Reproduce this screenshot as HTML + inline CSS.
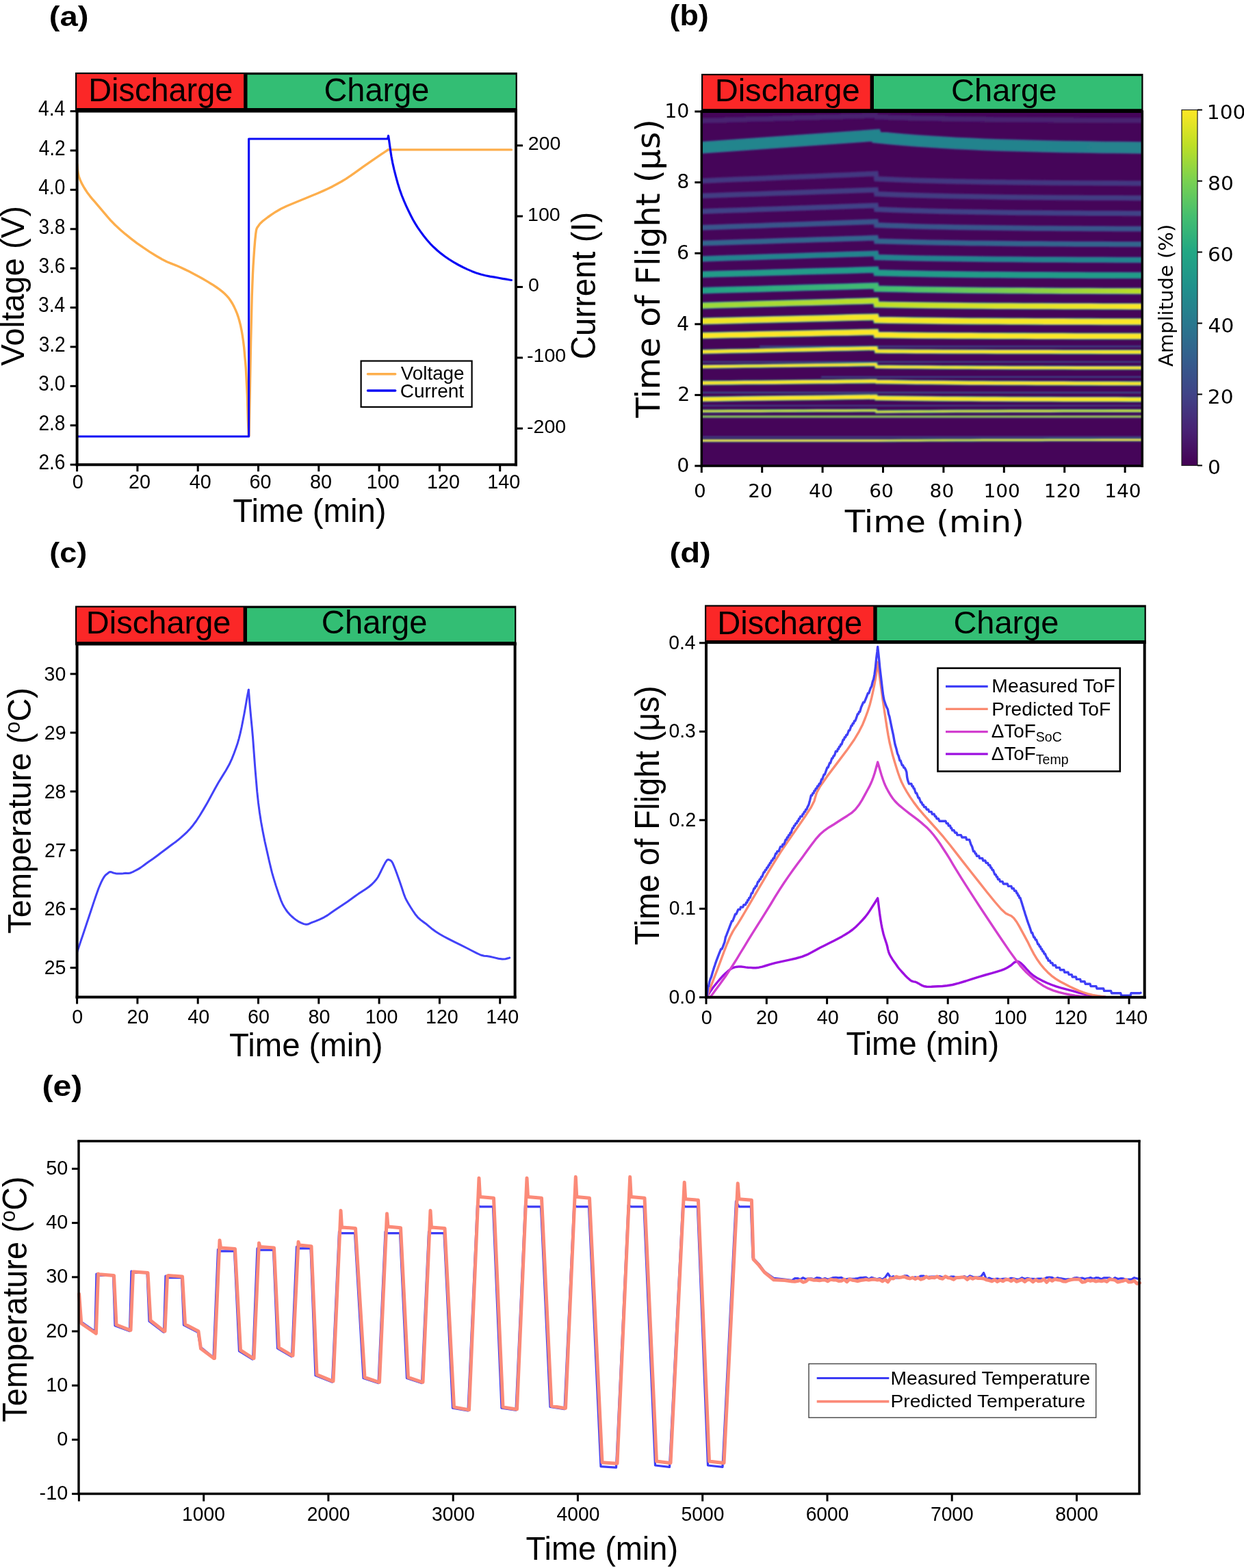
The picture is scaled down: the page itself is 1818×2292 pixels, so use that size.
<!DOCTYPE html>
<html><head><meta charset="utf-8"><title>Figure</title>
<style>html,body{margin:0;padding:0;background:#fff;}svg{display:block;}</style></head>
<body><svg width="1818" height="2292" viewBox="0 0 1818 2292">
<rect width="1818" height="2292" fill="#fff"/>
<text transform="translate(71.64,38.13) scale(1,0.8730)" font-family="'Liberation Sans', Arial, Helvetica, sans-serif" font-size="47.29" font-weight="bold">(a)</text>
<rect x="110" y="106" width="645.8" height="56.8" fill="#000"/>
<rect x="112.2" y="108.2" width="243.9" height="49.8" fill="#fb2727"/>
<rect x="361.5" y="109.2" width="392.1" height="48.8" fill="#33be74"/>
<text transform="translate(129.25,147.80) scale(1,1.0290)" font-family="'Liberation Sans', Arial, Helvetica, sans-serif" font-size="46.90" font-weight="normal">Discharge</text>
<text transform="translate(473.45,147.90) scale(1,1.0405)" font-family="'Liberation Sans', Arial, Helvetica, sans-serif" font-size="46.94" font-weight="normal">Charge</text>
<polyline points="112.6,239.5 112.9,242.4 113.3,246.6 113.8,251.1 114.5,255 115.3,258 116.2,260.7 117.3,263.3 118.4,265.8 119.6,268.4 121,270.9 122.4,273.4 124,276 125.6,278.5 127.2,280.9 129.1,283.5 131.6,286.8 134.9,290.8 138.7,295.2 142.9,300.1 147.4,305.3 152,310.8 156.9,316.7 162.3,322.8 168.4,329 175.4,335.5 183.2,342.2 191.5,348.8 200,355.3 209.1,361.7 218.7,368.1 228.2,374 236.8,379 244.1,382.7 250.7,385.4 256.9,387.8 263.2,390.5 269.8,393.6 276.4,396.8 282.9,400.2 289.5,403.7 296.3,407.5 303.3,411.6 310,415.7 315.8,419.5 320.6,422.9 324.7,426.1 328.3,429.2 331.6,432.6 334.7,436.2 337.3,440 339.8,444 342.1,448.4 344.3,453.1 346.4,458.1 348.3,463.6 350,469.5 351.6,475.9 353,482.8 354.3,490.2 355.5,498.4 356.7,508.5 357.7,520 358.7,530.6 359.3,537.9 361.3,577.4 362.4,615 363.4,636.6" fill="none" stroke="#fdae4c" stroke-width="3.4" stroke-linejoin="round" stroke-linecap="round"/>
<polyline points="363.9,636.6 365.3,570 366.6,500 368.2,432.6 368.5,425 368.9,414 369.4,401.6 370,389.5 370.8,377.1 371.7,363.8 372.7,351.5 373.7,342 374.5,336.5 375.3,333.8 376.2,332.2 377.6,330.3 379.2,328 381,325.9 383.4,323.7 386.8,321 391.4,317.5 396.9,313.6 403.3,309.4 410.5,305.3 418.9,301.3 428.5,297.3 438.2,293.3 447.4,289.5 455.8,286 463.8,282.7 471.5,279.4 478.9,276 485.9,272.6 492.4,269.1 498.8,265.5 505.3,261.6 512,257.2 518.8,252.4 525.4,247.6 531.6,243.2 537.4,239.2 542.8,235.4 547.9,231.9 552.6,228.7 557,225.7 561.2,222.9 564.6,220.6 567.1,218.9" fill="none" stroke="#fdae4c" stroke-width="3.4" stroke-linejoin="round" stroke-linecap="round"/>
<polyline points="567.1,218.9 747.4,218.9" fill="none" stroke="#fdae4c" stroke-width="3.4" stroke-linejoin="round" stroke-linecap="round"/>
<polyline points="112.6,638 363.6,638 363.6,203 566.5,203 567.6,198.5 568.4,203.7 568.4,203.7 569.2,209.7 570.4,218.3 571.9,228.2 573.7,237.9 575.9,247.6 578.5,257.8 581.3,268 584.2,277.4 587.3,286 590.6,294.2 594,301.8 597.4,309 600.6,315.5 603.6,321.3 606.9,326.9 610.5,332.6 614.7,338.6 619.2,344.8 624,350.7 628.9,356.3 633.9,361.3 639,366 644.3,370.4 650,374.7 656.2,379 662.8,383.1 669.6,387 676.3,390.5 682.9,393.6 689.4,396.4 696,398.9 702.6,401 709.4,402.7 716.2,404.1 722.9,405.2 728.9,406.3 734.5,407.3 739.8,408.2 744.3,409 747.4,409.5" fill="none" stroke="#0a0af5" stroke-width="3.2" stroke-linejoin="round" stroke-linecap="round"/>
<line x1="112.6" y1="160.6" x2="112.6" y2="681.2" stroke="#000" stroke-width="4" stroke-linecap="butt"/>
<line x1="754" y1="160.6" x2="754" y2="681.2" stroke="#000" stroke-width="4" stroke-linecap="butt"/>
<line x1="110.6" y1="679.2" x2="756" y2="679.2" stroke="#000" stroke-width="4" stroke-linecap="butt"/>
<line x1="110.6" y1="162.1" x2="756" y2="162.1" stroke="#000" stroke-width="5" stroke-linecap="butt"/>
<line x1="102.6" y1="679.2" x2="112.6" y2="679.2" stroke="#000" stroke-width="3" stroke-linecap="butt"/>
<text transform="translate(56.38,685.94) scale(1,1.0880)" font-family="'Liberation Sans', Arial, Helvetica, sans-serif" font-size="28.09" font-weight="normal">2.6</text>
<line x1="102.6" y1="621.8" x2="112.6" y2="621.8" stroke="#000" stroke-width="3" stroke-linecap="butt"/>
<text transform="translate(56.38,628.54) scale(1,1.0880)" font-family="'Liberation Sans', Arial, Helvetica, sans-serif" font-size="28.09" font-weight="normal">2.8</text>
<line x1="102.6" y1="564.4" x2="112.6" y2="564.4" stroke="#000" stroke-width="3" stroke-linecap="butt"/>
<text transform="translate(56.24,571.14) scale(1,1.0880)" font-family="'Liberation Sans', Arial, Helvetica, sans-serif" font-size="28.09" font-weight="normal">3.0</text>
<line x1="102.6" y1="507" x2="112.6" y2="507" stroke="#000" stroke-width="3" stroke-linecap="butt"/>
<text transform="translate(56.66,513.74) scale(1,1.0880)" font-family="'Liberation Sans', Arial, Helvetica, sans-serif" font-size="28.09" font-weight="normal">3.2</text>
<line x1="102.6" y1="449.6" x2="112.6" y2="449.6" stroke="#000" stroke-width="3" stroke-linecap="butt"/>
<text transform="translate(56.10,456.34) scale(1,1.0880)" font-family="'Liberation Sans', Arial, Helvetica, sans-serif" font-size="28.09" font-weight="normal">3.4</text>
<line x1="102.6" y1="392.2" x2="112.6" y2="392.2" stroke="#000" stroke-width="3" stroke-linecap="butt"/>
<text transform="translate(56.38,398.94) scale(1,1.0880)" font-family="'Liberation Sans', Arial, Helvetica, sans-serif" font-size="28.09" font-weight="normal">3.6</text>
<line x1="102.6" y1="334.8" x2="112.6" y2="334.8" stroke="#000" stroke-width="3" stroke-linecap="butt"/>
<text transform="translate(56.38,341.54) scale(1,1.0880)" font-family="'Liberation Sans', Arial, Helvetica, sans-serif" font-size="28.09" font-weight="normal">3.8</text>
<line x1="102.6" y1="277.4" x2="112.6" y2="277.4" stroke="#000" stroke-width="3" stroke-linecap="butt"/>
<text transform="translate(56.24,284.14) scale(1,1.0880)" font-family="'Liberation Sans', Arial, Helvetica, sans-serif" font-size="28.09" font-weight="normal">4.0</text>
<line x1="102.6" y1="220" x2="112.6" y2="220" stroke="#000" stroke-width="3" stroke-linecap="butt"/>
<text transform="translate(56.66,226.90) scale(1,1.0880)" font-family="'Liberation Sans', Arial, Helvetica, sans-serif" font-size="28.09" font-weight="normal">4.2</text>
<line x1="102.6" y1="162.6" x2="112.6" y2="162.6" stroke="#000" stroke-width="3" stroke-linecap="butt"/>
<text transform="translate(56.10,169.34) scale(1,1.0880)" font-family="'Liberation Sans', Arial, Helvetica, sans-serif" font-size="28.09" font-weight="normal">4.4</text>
<line x1="754" y1="212.7" x2="764" y2="212.7" stroke="#000" stroke-width="3" stroke-linecap="butt"/>
<text transform="translate(771.67,219.12) scale(1,0.9932)" font-family="'Liberation Sans', Arial, Helvetica, sans-serif" font-size="28.65" font-weight="normal">200</text>
<line x1="754" y1="316.1" x2="764" y2="316.1" stroke="#000" stroke-width="3" stroke-linecap="butt"/>
<text transform="translate(770.95,322.52) scale(1,0.9932)" font-family="'Liberation Sans', Arial, Helvetica, sans-serif" font-size="28.65" font-weight="normal">100</text>
<line x1="754" y1="419.5" x2="764" y2="419.5" stroke="#000" stroke-width="3" stroke-linecap="butt"/>
<text transform="translate(771.95,425.92) scale(1,0.9932)" font-family="'Liberation Sans', Arial, Helvetica, sans-serif" font-size="28.65" font-weight="normal">0</text>
<line x1="754" y1="522.9" x2="764" y2="522.9" stroke="#000" stroke-width="3" stroke-linecap="butt"/>
<text transform="translate(769.91,529.32) scale(1,0.9932)" font-family="'Liberation Sans', Arial, Helvetica, sans-serif" font-size="28.65" font-weight="normal">-100</text>
<line x1="754" y1="626.3" x2="764" y2="626.3" stroke="#000" stroke-width="3" stroke-linecap="butt"/>
<text transform="translate(769.91,632.72) scale(1,0.9932)" font-family="'Liberation Sans', Arial, Helvetica, sans-serif" font-size="28.65" font-weight="normal">-200</text>
<line x1="112.6" y1="679.2" x2="112.6" y2="689.2" stroke="#000" stroke-width="3" stroke-linecap="butt"/>
<text transform="translate(105.74,713.61) scale(1,1.0130)" font-family="'Liberation Sans', Arial, Helvetica, sans-serif" font-size="28.78" font-weight="normal">0</text>
<line x1="200.9" y1="679.2" x2="200.9" y2="689.2" stroke="#000" stroke-width="3" stroke-linecap="butt"/>
<text transform="translate(188.01,713.61) scale(1,1.0130)" font-family="'Liberation Sans', Arial, Helvetica, sans-serif" font-size="28.78" font-weight="normal">20</text>
<line x1="289.2" y1="679.2" x2="289.2" y2="689.2" stroke="#000" stroke-width="3" stroke-linecap="butt"/>
<text transform="translate(276.74,713.61) scale(1,1.0130)" font-family="'Liberation Sans', Arial, Helvetica, sans-serif" font-size="28.78" font-weight="normal">40</text>
<line x1="377.5" y1="679.2" x2="377.5" y2="689.2" stroke="#000" stroke-width="3" stroke-linecap="butt"/>
<text transform="translate(364.61,713.61) scale(1,1.0130)" font-family="'Liberation Sans', Arial, Helvetica, sans-serif" font-size="28.78" font-weight="normal">60</text>
<line x1="465.8" y1="679.2" x2="465.8" y2="689.2" stroke="#000" stroke-width="3" stroke-linecap="butt"/>
<text transform="translate(452.98,713.61) scale(1,1.0130)" font-family="'Liberation Sans', Arial, Helvetica, sans-serif" font-size="28.78" font-weight="normal">80</text>
<line x1="554.1" y1="679.2" x2="554.1" y2="689.2" stroke="#000" stroke-width="3" stroke-linecap="butt"/>
<text transform="translate(535.76,713.61) scale(1,1.0130)" font-family="'Liberation Sans', Arial, Helvetica, sans-serif" font-size="28.78" font-weight="normal">100</text>
<line x1="642.4" y1="679.2" x2="642.4" y2="689.2" stroke="#000" stroke-width="3" stroke-linecap="butt"/>
<text transform="translate(624.06,713.61) scale(1,1.0130)" font-family="'Liberation Sans', Arial, Helvetica, sans-serif" font-size="28.78" font-weight="normal">120</text>
<line x1="730.7" y1="679.2" x2="730.7" y2="689.2" stroke="#000" stroke-width="3" stroke-linecap="butt"/>
<text transform="translate(712.36,713.61) scale(1,1.0130)" font-family="'Liberation Sans', Arial, Helvetica, sans-serif" font-size="28.78" font-weight="normal">140</text>
<text transform="translate(340.35,762.70) scale(1,1.0294)" font-family="'Liberation Sans', Arial, Helvetica, sans-serif" font-size="47.30" font-weight="normal">Time (min)</text>
<text transform="translate(35.00,534.74) rotate(-90) scale(1,1.0125)" font-family="'Liberation Sans', Arial, Helvetica, sans-serif" font-size="47.23" font-weight="normal">Voltage (V)</text>
<text transform="translate(869.90,525.27) rotate(-90) scale(1,1.0533)" font-family="'Liberation Sans', Arial, Helvetica, sans-serif" font-size="47.33" font-weight="normal">Current (I)</text>
<rect x="527.6" y="527.6" width="162" height="67.3" fill="#fff" stroke="#000" stroke-width="2.2"/>
<line x1="537.5" y1="546.8" x2="577.7" y2="546.8" stroke="#fdae4c" stroke-width="3.5" stroke-linecap="round"/>
<line x1="537.5" y1="571" x2="577.7" y2="571" stroke="#0a0af5" stroke-width="3.5" stroke-linecap="round"/>
<text transform="translate(585.66,555.30) scale(1,1.0135)" font-family="'Liberation Sans', Arial, Helvetica, sans-serif" font-size="27.88" font-weight="normal">Voltage</text>
<text transform="translate(584.70,580.80) scale(1,0.9927)" font-family="'Liberation Sans', Arial, Helvetica, sans-serif" font-size="28.03" font-weight="normal">Current</text>
<text transform="translate(978.56,37.16) scale(1,0.9280)" font-family="'Liberation Sans', Arial, Helvetica, sans-serif" font-size="44.83" font-weight="bold">(b)</text>
<rect x="1025" y="107.9" width="645.5" height="56.1" fill="#000"/>
<rect x="1027.2" y="110.1" width="244.4" height="49.1" fill="#fb2727"/>
<rect x="1277" y="111.1" width="391.3" height="48.1" fill="#33be74"/>
<text transform="translate(1044.63,148.20) scale(1,0.9968)" font-family="'Liberation Sans', Arial, Helvetica, sans-serif" font-size="47.11" font-weight="normal">Discharge</text>
<text transform="translate(1390.05,148.20)" font-family="'Liberation Sans', Arial, Helvetica, sans-serif" font-size="47.06" font-weight="normal">Charge</text>
<defs><filter id="bl" x="-5%" y="-5%" width="110%" height="110%"><feGaussianBlur stdDeviation="0.9"/></filter><clipPath id="hm"><rect x="1025.3" y="163" width="644" height="518"/></clipPath>
<linearGradient id="cb" x1="0" y1="1" x2="0" y2="0"><stop offset="0.00" stop-color="#440154"/><stop offset="0.10" stop-color="#482374"/><stop offset="0.20" stop-color="#404387"/><stop offset="0.30" stop-color="#345e8d"/><stop offset="0.40" stop-color="#29788e"/><stop offset="0.50" stop-color="#20908c"/><stop offset="0.60" stop-color="#22a784"/><stop offset="0.70" stop-color="#44be70"/><stop offset="0.80" stop-color="#79d151"/><stop offset="0.90" stop-color="#bddf26"/><stop offset="1.00" stop-color="#fde725"/></linearGradient></defs>
<g clip-path="url(#hm)">
<rect x="1025.3" y="163" width="644" height="518" fill="#450559"/>
<g filter="url(#bl)">
<line x1="1110" y1="506.3" x2="1669.3" y2="506.3" stroke="#3e4888" stroke-width="2.2" stroke-linecap="butt"/>
<line x1="1025" y1="529" x2="1669.3" y2="529" stroke="#3e4888" stroke-width="2.2" stroke-linecap="butt"/>
<line x1="1200" y1="551" x2="1669.3" y2="551" stroke="#3e4888" stroke-width="2.2" stroke-linecap="butt"/>
<line x1="1025" y1="573.9" x2="1669.3" y2="573.9" stroke="#3a508a" stroke-width="2.2" stroke-linecap="butt"/>
<line x1="1025" y1="593" x2="1669.3" y2="593" stroke="#404387" stroke-width="2" stroke-linecap="butt"/>
<line x1="1025" y1="638.8" x2="1669.3" y2="638.8" stroke="#3e4888" stroke-width="2" stroke-linecap="butt"/>
<polyline points="1025.3,176.5 1046.5,175.9 1067.7,175.2 1088.9,174.6 1110.2,174 1131.4,173.4 1152.6,172.8 1173.8,172.1 1195,171.5 1216.2,170.9 1237.5,170.2 1258.7,169.6 1279.9,169 1281,171 1300.5,171.6 1320,172.2 1339.4,172.7 1358.9,173.1 1378.4,173.5 1397.9,173.9 1417.4,174.2 1436.8,174.4 1456.3,174.7 1475.8,174.9 1495.3,175.1 1514.8,175.2 1534.3,175.4 1553.7,175.5 1573.2,175.6 1592.7,175.7 1612.2,175.8 1631.7,175.9 1651.1,175.9 1670.6,176" fill="none" stroke="#461365" stroke-width="9" stroke-linejoin="miter" stroke-linecap="round"/>
<polyline points="1025.3,176.5 1046.5,175.9 1067.7,175.2 1088.9,174.6 1110.2,174 1131.4,173.4 1152.6,172.8 1173.8,172.1 1195,171.5 1216.2,170.9 1237.5,170.2 1258.7,169.6 1279.9,169 1281,171 1300.5,171.6 1320,172.2 1339.4,172.7 1358.9,173.1 1378.4,173.5 1397.9,173.9 1417.4,174.2 1436.8,174.4 1456.3,174.7 1475.8,174.9 1495.3,175.1 1514.8,175.2 1534.3,175.4 1553.7,175.5 1573.2,175.6 1592.7,175.7 1612.2,175.8 1631.7,175.9 1651.1,175.9 1670.6,176" fill="none" stroke="#482071" stroke-width="6.4" stroke-linejoin="miter" stroke-linecap="round"/>
<linearGradient id="g2157" gradientUnits="userSpaceOnUse" x1="1025.3" y1="0" x2="1669.3" y2="0"><stop offset="0" stop-color="#24868d"/><stop offset="0.45" stop-color="#24848d"/><stop offset="1" stop-color="#25828d"/></linearGradient>
<polyline points="1025.3,215.7 1046.5,214.2 1067.7,212.7 1088.9,211.2 1110.2,209.7 1131.4,208.2 1152.6,206.7 1173.8,205.2 1195,203.7 1216.2,202.2 1237.5,200.7 1258.7,199.2 1279.9,197.7 1281,200.5 1300.5,202.5 1320,204.2 1339.4,205.8 1358.9,207.1 1378.4,208.3 1397.9,209.4 1417.4,210.3 1436.8,211.2 1456.3,211.9 1475.8,212.5 1495.3,213.1 1514.8,213.6 1534.3,214.1 1553.7,214.5 1573.2,214.8 1592.7,215.1 1612.2,215.4 1631.7,215.6 1651.1,215.8 1670.6,216" fill="none" stroke="#37588c" stroke-width="18" stroke-linejoin="miter" stroke-linecap="round"/>
<polyline points="1025.3,215.7 1046.5,214.2 1067.7,212.7 1088.9,211.2 1110.2,209.7 1131.4,208.2 1152.6,206.7 1173.8,205.2 1195,203.7 1216.2,202.2 1237.5,200.7 1258.7,199.2 1279.9,197.7 1281,200.5 1300.5,202.5 1320,204.2 1339.4,205.8 1358.9,207.1 1378.4,208.3 1397.9,209.4 1417.4,210.3 1436.8,211.2 1456.3,211.9 1475.8,212.5 1495.3,213.1 1514.8,213.6 1534.3,214.1 1553.7,214.5 1573.2,214.8 1592.7,215.1 1612.2,215.4 1631.7,215.6 1651.1,215.8 1670.6,216" fill="none" stroke="url(#g2157)" stroke-width="15.4" stroke-linejoin="miter" stroke-linecap="round"/>
<polyline points="1025.3,264.4 1046.5,263.5 1067.7,262.6 1088.9,261.8 1110.2,260.9 1131.4,260 1152.6,259.1 1173.8,258.3 1195,257.4 1216.2,256.5 1237.5,255.7 1258.7,254.8 1279.9,253.9 1281,261.5 1300.5,262.3 1320,263.1 1339.4,263.7 1358.9,264.3 1378.4,264.8 1397.9,265.2 1417.4,265.6 1436.8,266 1456.3,266.3 1475.8,266.6 1495.3,266.8 1514.8,267 1534.3,267.2 1553.7,267.4 1573.2,267.5 1592.7,267.6 1612.2,267.7 1631.7,267.8 1651.1,267.9 1670.6,268" fill="none" stroke="#482474" stroke-width="8.5" stroke-linejoin="miter" stroke-linecap="round"/>
<polyline points="1025.3,264.4 1046.5,263.5 1067.7,262.6 1088.9,261.8 1110.2,260.9 1131.4,260 1152.6,259.1 1173.8,258.3 1195,257.4 1216.2,256.5 1237.5,255.7 1258.7,254.8 1279.9,253.9 1281,261.5 1300.5,262.3 1320,263.1 1339.4,263.7 1358.9,264.3 1378.4,264.8 1397.9,265.2 1417.4,265.6 1436.8,266 1456.3,266.3 1475.8,266.6 1495.3,266.8 1514.8,267 1534.3,267.2 1553.7,267.4 1573.2,267.5 1592.7,267.6 1612.2,267.7 1631.7,267.8 1651.1,267.9 1670.6,268" fill="none" stroke="#423981" stroke-width="5.9" stroke-linejoin="miter" stroke-linecap="round"/>
<polyline points="1025.3,286.3 1046.5,285.6 1067.7,284.8 1088.9,284.1 1110.2,283.4 1131.4,282.6 1152.6,281.9 1173.8,281.2 1195,280.4 1216.2,279.7 1237.5,279 1258.7,278.2 1279.9,277.5 1281,283.5 1300.5,284.3 1320,284.9 1339.4,285.5 1358.9,286.1 1378.4,286.5 1397.9,286.9 1417.4,287.3 1436.8,287.6 1456.3,287.9 1475.8,288.2 1495.3,288.4 1514.8,288.6 1534.3,288.7 1553.7,288.9 1573.2,289 1592.7,289.2 1612.2,289.3 1631.7,289.3 1651.1,289.4 1670.6,289.5" fill="none" stroke="#472676" stroke-width="8.5" stroke-linejoin="miter" stroke-linecap="round"/>
<polyline points="1025.3,286.3 1046.5,285.6 1067.7,284.8 1088.9,284.1 1110.2,283.4 1131.4,282.6 1152.6,281.9 1173.8,281.2 1195,280.4 1216.2,279.7 1237.5,279 1258.7,278.2 1279.9,277.5 1281,283.5 1300.5,284.3 1320,284.9 1339.4,285.5 1358.9,286.1 1378.4,286.5 1397.9,286.9 1417.4,287.3 1436.8,287.6 1456.3,287.9 1475.8,288.2 1495.3,288.4 1514.8,288.6 1534.3,288.7 1553.7,288.9 1573.2,289 1592.7,289.2 1612.2,289.3 1631.7,289.3 1651.1,289.4 1670.6,289.5" fill="none" stroke="#423d83" stroke-width="5.9" stroke-linejoin="miter" stroke-linecap="round"/>
<polyline points="1025.3,309 1046.5,308.3 1067.7,307.6 1088.9,306.9 1110.2,306.1 1131.4,305.4 1152.6,304.7 1173.8,304 1195,303.3 1216.2,302.6 1237.5,301.8 1258.7,301.1 1279.9,300.4 1281,306 1300.5,306.8 1320,307.4 1339.4,308 1358.9,308.6 1378.4,309 1397.9,309.4 1417.4,309.8 1436.8,310.1 1456.3,310.4 1475.8,310.7 1495.3,310.9 1514.8,311.1 1534.3,311.2 1553.7,311.4 1573.2,311.5 1592.7,311.7 1612.2,311.8 1631.7,311.8 1651.1,311.9 1670.6,312" fill="none" stroke="#462978" stroke-width="8.5" stroke-linejoin="miter" stroke-linecap="round"/>
<polyline points="1025.3,309 1046.5,308.3 1067.7,307.6 1088.9,306.9 1110.2,306.1 1131.4,305.4 1152.6,304.7 1173.8,304 1195,303.3 1216.2,302.6 1237.5,301.8 1258.7,301.1 1279.9,300.4 1281,306 1300.5,306.8 1320,307.4 1339.4,308 1358.9,308.6 1378.4,309 1397.9,309.4 1417.4,309.8 1436.8,310.1 1456.3,310.4 1475.8,310.7 1495.3,310.9 1514.8,311.1 1534.3,311.2 1553.7,311.4 1573.2,311.5 1592.7,311.7 1612.2,311.8 1631.7,311.8 1651.1,311.9 1670.6,312" fill="none" stroke="#404387" stroke-width="5.9" stroke-linejoin="miter" stroke-linecap="round"/>
<polyline points="1025.3,332.8 1046.5,332.1 1067.7,331.3 1088.9,330.6 1110.2,329.9 1131.4,329.1 1152.6,328.4 1173.8,327.7 1195,326.9 1216.2,326.2 1237.5,325.5 1258.7,324.7 1279.9,324 1281,329 1300.5,329.7 1320,330.3 1339.4,330.9 1358.9,331.4 1378.4,331.8 1397.9,332.2 1417.4,332.5 1436.8,332.8 1456.3,333 1475.8,333.3 1495.3,333.5 1514.8,333.7 1534.3,333.8 1553.7,334 1573.2,334.1 1592.7,334.2 1612.2,334.3 1631.7,334.4 1651.1,334.4 1670.6,334.5" fill="none" stroke="#433780" stroke-width="8.5" stroke-linejoin="miter" stroke-linecap="round"/>
<polyline points="1025.3,332.8 1046.5,332.1 1067.7,331.3 1088.9,330.6 1110.2,329.9 1131.4,329.1 1152.6,328.4 1173.8,327.7 1195,326.9 1216.2,326.2 1237.5,325.5 1258.7,324.7 1279.9,324 1281,329 1300.5,329.7 1320,330.3 1339.4,330.9 1358.9,331.4 1378.4,331.8 1397.9,332.2 1417.4,332.5 1436.8,332.8 1456.3,333 1475.8,333.3 1495.3,333.5 1514.8,333.7 1534.3,333.8 1553.7,334 1573.2,334.1 1592.7,334.2 1612.2,334.3 1631.7,334.4 1651.1,334.4 1670.6,334.5" fill="none" stroke="#38568b" stroke-width="5.9" stroke-linejoin="miter" stroke-linecap="round"/>
<polyline points="1025.3,355.6 1046.5,354.9 1067.7,354.3 1088.9,353.6 1110.2,353 1131.4,352.3 1152.6,351.6 1173.8,351 1195,350.3 1216.2,349.7 1237.5,349 1258.7,348.4 1279.9,347.7 1281,352.5 1300.5,353.1 1320,353.6 1339.4,354 1358.9,354.4 1378.4,354.8 1397.9,355.1 1417.4,355.4 1436.8,355.6 1456.3,355.8 1475.8,356 1495.3,356.2 1514.8,356.3 1534.3,356.4 1553.7,356.6 1573.2,356.7 1592.7,356.7 1612.2,356.8 1631.7,356.9 1651.1,356.9 1670.6,357" fill="none" stroke="#404287" stroke-width="8.5" stroke-linejoin="miter" stroke-linecap="round"/>
<polyline points="1025.3,355.6 1046.5,354.9 1067.7,354.3 1088.9,353.6 1110.2,353 1131.4,352.3 1152.6,351.6 1173.8,351 1195,350.3 1216.2,349.7 1237.5,349 1258.7,348.4 1279.9,347.7 1281,352.5 1300.5,353.1 1320,353.6 1339.4,354 1358.9,354.4 1378.4,354.8 1397.9,355.1 1417.4,355.4 1436.8,355.6 1456.3,355.8 1475.8,356 1495.3,356.2 1514.8,356.3 1534.3,356.4 1553.7,356.6 1573.2,356.7 1592.7,356.7 1612.2,356.8 1631.7,356.9 1651.1,356.9 1670.6,357" fill="none" stroke="#31668d" stroke-width="5.9" stroke-linejoin="miter" stroke-linecap="round"/>
<polyline points="1025.3,378.4 1046.5,377.7 1067.7,377.1 1088.9,376.4 1110.2,375.8 1131.4,375.1 1152.6,374.4 1173.8,373.8 1195,373.1 1216.2,372.5 1237.5,371.8 1258.7,371.2 1279.9,370.5 1281,376 1300.5,376.5 1320,377 1339.4,377.4 1358.9,377.7 1378.4,378 1397.9,378.3 1417.4,378.5 1436.8,378.8 1456.3,378.9 1475.8,379.1 1495.3,379.3 1514.8,379.4 1534.3,379.5 1553.7,379.6 1573.2,379.7 1592.7,379.8 1612.2,379.8 1631.7,379.9 1651.1,380 1670.6,380" fill="none" stroke="#38568b" stroke-width="9" stroke-linejoin="miter" stroke-linecap="round"/>
<polyline points="1025.3,378.4 1046.5,377.7 1067.7,377.1 1088.9,376.4 1110.2,375.8 1131.4,375.1 1152.6,374.4 1173.8,373.8 1195,373.1 1216.2,372.5 1237.5,371.8 1258.7,371.2 1279.9,370.5 1281,376 1300.5,376.5 1320,377 1339.4,377.4 1358.9,377.7 1378.4,378 1397.9,378.3 1417.4,378.5 1436.8,378.8 1456.3,378.9 1475.8,379.1 1495.3,379.3 1514.8,379.4 1534.3,379.5 1553.7,379.6 1573.2,379.7 1592.7,379.8 1612.2,379.8 1631.7,379.9 1651.1,380 1670.6,380" fill="none" stroke="#24848d" stroke-width="6.4" stroke-linejoin="miter" stroke-linecap="round"/>
<polyline points="1025.3,401.2 1046.5,400.6 1067.7,400 1088.9,399.4 1110.2,398.9 1131.4,398.3 1152.6,397.7 1173.8,397.1 1195,396.5 1216.2,395.9 1237.5,395.4 1258.7,394.8 1279.9,394.2 1281,398.8 1300.5,399.3 1320,399.7 1339.4,400.1 1358.9,400.4 1378.4,400.7 1397.9,401 1417.4,401.2 1436.8,401.4 1456.3,401.6 1475.8,401.8 1495.3,401.9 1514.8,402 1534.3,402.1 1553.7,402.2 1573.2,402.3 1592.7,402.4 1612.2,402.4 1631.7,402.5 1651.1,402.6 1670.6,402.6" fill="none" stroke="#31668d" stroke-width="10" stroke-linejoin="miter" stroke-linecap="round"/>
<polyline points="1025.3,401.2 1046.5,400.6 1067.7,400 1088.9,399.4 1110.2,398.9 1131.4,398.3 1152.6,397.7 1173.8,397.1 1195,396.5 1216.2,395.9 1237.5,395.4 1258.7,394.8 1279.9,394.2 1281,398.8 1300.5,399.3 1320,399.7 1339.4,400.1 1358.9,400.4 1378.4,400.7 1397.9,401 1417.4,401.2 1436.8,401.4 1456.3,401.6 1475.8,401.8 1495.3,401.9 1514.8,402 1534.3,402.1 1553.7,402.2 1573.2,402.3 1592.7,402.4 1612.2,402.4 1631.7,402.5 1651.1,402.6 1670.6,402.6" fill="none" stroke="#219c88" stroke-width="7.4" stroke-linejoin="miter" stroke-linecap="round"/>
<linearGradient id="g4247" gradientUnits="userSpaceOnUse" x1="1025.3" y1="0" x2="1669.3" y2="0"><stop offset="0" stop-color="#22a286"/><stop offset="0.45" stop-color="#48c06e"/><stop offset="1" stop-color="#bddf26"/></linearGradient>
<polyline points="1025.3,424.7 1046.5,424.1 1067.7,423.5 1088.9,422.9 1110.2,422.4 1131.4,421.8 1152.6,421.2 1173.8,420.6 1195,420 1216.2,419.4 1237.5,418.9 1258.7,418.3 1279.9,417.7 1281,422 1300.5,422.4 1320,422.8 1339.4,423.2 1358.9,423.5 1378.4,423.8 1397.9,424 1417.4,424.2 1436.8,424.4 1456.3,424.6 1475.8,424.7 1495.3,424.8 1514.8,425 1534.3,425.1 1553.7,425.2 1573.2,425.2 1592.7,425.3 1612.2,425.4 1631.7,425.4 1651.1,425.5 1670.6,425.5" fill="none" stroke="#2f6a8d" stroke-width="10" stroke-linejoin="miter" stroke-linecap="round"/>
<polyline points="1025.3,424.7 1046.5,424.1 1067.7,423.5 1088.9,422.9 1110.2,422.4 1131.4,421.8 1152.6,421.2 1173.8,420.6 1195,420 1216.2,419.4 1237.5,418.9 1258.7,418.3 1279.9,417.7 1281,422 1300.5,422.4 1320,422.8 1339.4,423.2 1358.9,423.5 1378.4,423.8 1397.9,424 1417.4,424.2 1436.8,424.4 1456.3,424.6 1475.8,424.7 1495.3,424.8 1514.8,425 1534.3,425.1 1553.7,425.2 1573.2,425.2 1592.7,425.3 1612.2,425.4 1631.7,425.4 1651.1,425.5 1670.6,425.5" fill="none" stroke="url(#g4247)" stroke-width="7.4" stroke-linejoin="miter" stroke-linecap="round"/>
<linearGradient id="g4467" gradientUnits="userSpaceOnUse" x1="1025.3" y1="0" x2="1669.3" y2="0"><stop offset="0" stop-color="#9bd83c"/><stop offset="0.45" stop-color="#c3e026"/><stop offset="1" stop-color="#fde725"/></linearGradient>
<polyline points="1025.3,446.7 1046.5,446.1 1067.7,445.5 1088.9,444.9 1110.2,444.3 1131.4,443.7 1152.6,443.1 1173.8,442.6 1195,442 1216.2,441.4 1237.5,440.8 1258.7,440.2 1279.9,439.6 1281,445 1300.5,445.4 1320,445.7 1339.4,446 1358.9,446.3 1378.4,446.5 1397.9,446.7 1417.4,446.9 1436.8,447.1 1456.3,447.2 1475.8,447.3 1495.3,447.4 1514.8,447.5 1534.3,447.6 1553.7,447.7 1573.2,447.8 1592.7,447.8 1612.2,447.9 1631.7,447.9 1651.1,448 1670.6,448" fill="none" stroke="#20928b" stroke-width="10" stroke-linejoin="miter" stroke-linecap="round"/>
<polyline points="1025.3,446.7 1046.5,446.1 1067.7,445.5 1088.9,444.9 1110.2,444.3 1131.4,443.7 1152.6,443.1 1173.8,442.6 1195,442 1216.2,441.4 1237.5,440.8 1258.7,440.2 1279.9,439.6 1281,445 1300.5,445.4 1320,445.7 1339.4,446 1358.9,446.3 1378.4,446.5 1397.9,446.7 1417.4,446.9 1436.8,447.1 1456.3,447.2 1475.8,447.3 1495.3,447.4 1514.8,447.5 1534.3,447.6 1553.7,447.7 1573.2,447.8 1592.7,447.8 1612.2,447.9 1631.7,447.9 1651.1,448 1670.6,448" fill="none" stroke="url(#g4467)" stroke-width="7.4" stroke-linejoin="miter" stroke-linecap="round"/>
<linearGradient id="g4695" gradientUnits="userSpaceOnUse" x1="1025.3" y1="0" x2="1669.3" y2="0"><stop offset="0" stop-color="#f0e525"/><stop offset="0.45" stop-color="#f5e625"/><stop offset="1" stop-color="#fde725"/></linearGradient>
<polyline points="1025.3,469.5 1046.5,469 1067.7,468.5 1088.9,467.9 1110.2,467.4 1131.4,466.9 1152.6,466.4 1173.8,465.9 1195,465.4 1216.2,464.9 1237.5,464.3 1258.7,463.8 1279.9,463.3 1281,467.7 1300.5,468 1320,468.3 1339.4,468.6 1358.9,468.8 1378.4,469 1397.9,469.2 1417.4,469.4 1436.8,469.5 1456.3,469.6 1475.8,469.7 1495.3,469.8 1514.8,469.9 1534.3,470 1553.7,470 1573.2,470.1 1592.7,470.1 1612.2,470.2 1631.7,470.2 1651.1,470.3 1670.6,470.3" fill="none" stroke="#22a485" stroke-width="10.5" stroke-linejoin="miter" stroke-linecap="round"/>
<polyline points="1025.3,469.5 1046.5,469 1067.7,468.5 1088.9,467.9 1110.2,467.4 1131.4,466.9 1152.6,466.4 1173.8,465.9 1195,465.4 1216.2,464.9 1237.5,464.3 1258.7,463.8 1279.9,463.3 1281,467.7 1300.5,468 1320,468.3 1339.4,468.6 1358.9,468.8 1378.4,469 1397.9,469.2 1417.4,469.4 1436.8,469.5 1456.3,469.6 1475.8,469.7 1495.3,469.8 1514.8,469.9 1534.3,470 1553.7,470 1573.2,470.1 1592.7,470.1 1612.2,470.2 1631.7,470.2 1651.1,470.3 1670.6,470.3" fill="none" stroke="url(#g4695)" stroke-width="7.9" stroke-linejoin="miter" stroke-linecap="round"/>
<polyline points="1025.3,490.5 1046.5,490.1 1067.7,489.6 1088.9,489.2 1110.2,488.8 1131.4,488.3 1152.6,487.9 1173.8,487.5 1195,487 1216.2,486.6 1237.5,486.2 1258.7,485.7 1279.9,485.3 1281,489.6 1300.5,489.8 1320,490.1 1339.4,490.2 1358.9,490.4 1378.4,490.6 1397.9,490.7 1417.4,490.8 1436.8,490.9 1456.3,491 1475.8,491.1 1495.3,491.1 1514.8,491.2 1534.3,491.3 1553.7,491.3 1573.2,491.4 1592.7,491.4 1612.2,491.4 1631.7,491.5 1651.1,491.5 1670.6,491.5" fill="none" stroke="#22a784" stroke-width="10" stroke-linejoin="miter" stroke-linecap="round"/>
<polyline points="1025.3,490.5 1046.5,490.1 1067.7,489.6 1088.9,489.2 1110.2,488.8 1131.4,488.3 1152.6,487.9 1173.8,487.5 1195,487 1216.2,486.6 1237.5,486.2 1258.7,485.7 1279.9,485.3 1281,489.6 1300.5,489.8 1320,490.1 1339.4,490.2 1358.9,490.4 1378.4,490.6 1397.9,490.7 1417.4,490.8 1436.8,490.9 1456.3,491 1475.8,491.1 1495.3,491.1 1514.8,491.2 1534.3,491.3 1553.7,491.3 1573.2,491.4 1592.7,491.4 1612.2,491.4 1631.7,491.5 1651.1,491.5 1670.6,491.5" fill="none" stroke="#fde725" stroke-width="7.4" stroke-linejoin="miter" stroke-linecap="round"/>
<polyline points="1025.3,514.2 1046.5,513.8 1067.7,513.3 1088.9,512.9 1110.2,512.5 1131.4,512 1152.6,511.6 1173.8,511.2 1195,510.7 1216.2,510.3 1237.5,509.9 1258.7,509.4 1279.9,509 1281,513.3 1300.5,513.5 1320,513.6 1339.4,513.7 1358.9,513.8 1378.4,513.9 1397.9,514 1417.4,514.1 1436.8,514.1 1456.3,514.2 1475.8,514.2 1495.3,514.3 1514.8,514.3 1534.3,514.3 1553.7,514.4 1573.2,514.4 1592.7,514.4 1612.2,514.5 1631.7,514.5 1651.1,514.5 1670.6,514.5" fill="none" stroke="#22a784" stroke-width="7" stroke-linejoin="miter" stroke-linecap="round"/>
<polyline points="1025.3,514.2 1046.5,513.8 1067.7,513.3 1088.9,512.9 1110.2,512.5 1131.4,512 1152.6,511.6 1173.8,511.2 1195,510.7 1216.2,510.3 1237.5,509.9 1258.7,509.4 1279.9,509 1281,513.3 1300.5,513.5 1320,513.6 1339.4,513.7 1358.9,513.8 1378.4,513.9 1397.9,514 1417.4,514.1 1436.8,514.1 1456.3,514.2 1475.8,514.2 1495.3,514.3 1514.8,514.3 1534.3,514.3 1553.7,514.4 1573.2,514.4 1592.7,514.4 1612.2,514.5 1631.7,514.5 1651.1,514.5 1670.6,514.5" fill="none" stroke="#fde725" stroke-width="4.4" stroke-linejoin="miter" stroke-linecap="round"/>
<polyline points="1025.3,536 1046.5,535.7 1067.7,535.4 1088.9,535.1 1110.2,534.9 1131.4,534.6 1152.6,534.3 1173.8,534 1195,533.7 1216.2,533.5 1237.5,533.2 1258.7,532.9 1279.9,532.6 1281,536 1300.5,536.2 1320,536.4 1339.4,536.6 1358.9,536.8 1378.4,536.9 1397.9,537 1417.4,537.1 1436.8,537.2 1456.3,537.3 1475.8,537.4 1495.3,537.5 1514.8,537.5 1534.3,537.6 1553.7,537.6 1573.2,537.7 1592.7,537.7 1612.2,537.7 1631.7,537.8 1651.1,537.8 1670.6,537.8" fill="none" stroke="#22a784" stroke-width="6" stroke-linejoin="miter" stroke-linecap="round"/>
<polyline points="1025.3,536 1046.5,535.7 1067.7,535.4 1088.9,535.1 1110.2,534.9 1131.4,534.6 1152.6,534.3 1173.8,534 1195,533.7 1216.2,533.5 1237.5,533.2 1258.7,532.9 1279.9,532.6 1281,536 1300.5,536.2 1320,536.4 1339.4,536.6 1358.9,536.8 1378.4,536.9 1397.9,537 1417.4,537.1 1436.8,537.2 1456.3,537.3 1475.8,537.4 1495.3,537.5 1514.8,537.5 1534.3,537.6 1553.7,537.6 1573.2,537.7 1592.7,537.7 1612.2,537.7 1631.7,537.8 1651.1,537.8 1670.6,537.8" fill="none" stroke="#fde725" stroke-width="3.4" stroke-linejoin="miter" stroke-linecap="round"/>
<polyline points="1025.3,559.8 1046.5,559.6 1067.7,559.4 1088.9,559.1 1110.2,558.9 1131.4,558.7 1152.6,558.5 1173.8,558.3 1195,558.1 1216.2,557.9 1237.5,557.6 1258.7,557.4 1279.9,557.2 1281,558 1300.5,558.3 1320,558.6 1339.4,558.9 1358.9,559.1 1378.4,559.3 1397.9,559.5 1417.4,559.7 1436.8,559.8 1456.3,559.9 1475.8,560 1495.3,560.1 1514.8,560.2 1534.3,560.3 1553.7,560.3 1573.2,560.4 1592.7,560.4 1612.2,560.5 1631.7,560.5 1651.1,560.6 1670.6,560.6" fill="none" stroke="#22a784" stroke-width="7" stroke-linejoin="miter" stroke-linecap="round"/>
<polyline points="1025.3,559.8 1046.5,559.6 1067.7,559.4 1088.9,559.1 1110.2,558.9 1131.4,558.7 1152.6,558.5 1173.8,558.3 1195,558.1 1216.2,557.9 1237.5,557.6 1258.7,557.4 1279.9,557.2 1281,558 1300.5,558.3 1320,558.6 1339.4,558.9 1358.9,559.1 1378.4,559.3 1397.9,559.5 1417.4,559.7 1436.8,559.8 1456.3,559.9 1475.8,560 1495.3,560.1 1514.8,560.2 1534.3,560.3 1553.7,560.3 1573.2,560.4 1592.7,560.4 1612.2,560.5 1631.7,560.5 1651.1,560.6 1670.6,560.6" fill="none" stroke="#fde725" stroke-width="4.4" stroke-linejoin="miter" stroke-linecap="round"/>
<polyline points="1025.3,583.5 1046.5,583.2 1067.7,582.9 1088.9,582.6 1110.2,582.3 1131.4,582 1152.6,581.8 1173.8,581.5 1195,581.2 1216.2,580.9 1237.5,580.6 1258.7,580.3 1279.9,580 1281,581.8 1300.5,582.1 1320,582.3 1339.4,582.5 1358.9,582.7 1378.4,582.9 1397.9,583 1417.4,583.1 1436.8,583.2 1456.3,583.3 1475.8,583.4 1495.3,583.5 1514.8,583.6 1534.3,583.6 1553.7,583.7 1573.2,583.7 1592.7,583.8 1612.2,583.8 1631.7,583.8 1651.1,583.9 1670.6,583.9" fill="none" stroke="#22a784" stroke-width="8" stroke-linejoin="miter" stroke-linecap="round"/>
<polyline points="1025.3,583.5 1046.5,583.2 1067.7,582.9 1088.9,582.6 1110.2,582.3 1131.4,582 1152.6,581.8 1173.8,581.5 1195,581.2 1216.2,580.9 1237.5,580.6 1258.7,580.3 1279.9,580 1281,581.8 1300.5,582.1 1320,582.3 1339.4,582.5 1358.9,582.7 1378.4,582.9 1397.9,583 1417.4,583.1 1436.8,583.2 1456.3,583.3 1475.8,583.4 1495.3,583.5 1514.8,583.6 1534.3,583.6 1553.7,583.7 1573.2,583.7 1592.7,583.8 1612.2,583.8 1631.7,583.8 1651.1,583.9 1670.6,583.9" fill="none" stroke="#fde725" stroke-width="5.4" stroke-linejoin="miter" stroke-linecap="round"/>
<polyline points="1025.3,601 1046.5,600.9 1067.7,600.8 1088.9,600.8 1110.2,600.7 1131.4,600.6 1152.6,600.5 1173.8,600.4 1195,600.3 1216.2,600.2 1237.5,600.2 1258.7,600.1 1279.9,600 1281,602 1300.5,601.8 1320,601.6 1339.4,601.5 1358.9,601.4 1378.4,601.2 1397.9,601.1 1417.4,601 1436.8,601 1456.3,600.9 1475.8,600.8 1495.3,600.8 1514.8,600.7 1534.3,600.7 1553.7,600.6 1573.2,600.6 1592.7,600.6 1612.2,600.6 1631.7,600.5 1651.1,600.5 1670.6,600.5" fill="none" stroke="#21a086" stroke-width="5" stroke-linejoin="miter" stroke-linecap="round"/>
<polyline points="1025.3,601 1046.5,600.9 1067.7,600.8 1088.9,600.8 1110.2,600.7 1131.4,600.6 1152.6,600.5 1173.8,600.4 1195,600.3 1216.2,600.2 1237.5,600.2 1258.7,600.1 1279.9,600 1281,602 1300.5,601.8 1320,601.6 1339.4,601.5 1358.9,601.4 1378.4,601.2 1397.9,601.1 1417.4,601 1436.8,601 1456.3,600.9 1475.8,600.8 1495.3,600.8 1514.8,600.7 1534.3,600.7 1553.7,600.6 1573.2,600.6 1592.7,600.6 1612.2,600.6 1631.7,600.5 1651.1,600.5 1670.6,600.5" fill="none" stroke="#dde326" stroke-width="2.4" stroke-linejoin="miter" stroke-linecap="round"/>
<linearGradient id="g6090" gradientUnits="userSpaceOnUse" x1="1025.3" y1="0" x2="1669.3" y2="0"><stop offset="0" stop-color="#bddf26"/><stop offset="0.45" stop-color="#cae126"/><stop offset="1" stop-color="#dde326"/></linearGradient>
<polyline points="1025.3,609 1046.5,609 1067.7,609 1088.9,609 1110.2,609 1131.4,609 1152.6,609 1173.8,609 1195,609 1216.2,609 1237.5,609 1258.7,609 1279.9,609 1281,609 1300.5,609 1320,609 1339.4,609 1358.9,609 1378.4,609 1397.9,609 1417.4,609 1436.8,609 1456.3,609 1475.8,609 1495.3,609 1514.8,609 1534.3,609 1553.7,609 1573.2,609 1592.7,609 1612.2,609 1631.7,609 1651.1,609 1670.6,609" fill="none" stroke="#219989" stroke-width="3.5" stroke-linejoin="miter" stroke-linecap="round"/>
<polyline points="1025.3,609 1046.5,609 1067.7,609 1088.9,609 1110.2,609 1131.4,609 1152.6,609 1173.8,609 1195,609 1216.2,609 1237.5,609 1258.7,609 1279.9,609 1281,609 1300.5,609 1320,609 1339.4,609 1358.9,609 1378.4,609 1397.9,609 1417.4,609 1436.8,609 1456.3,609 1475.8,609 1495.3,609 1514.8,609 1534.3,609 1553.7,609 1573.2,609 1592.7,609 1612.2,609 1631.7,609 1651.1,609 1670.6,609" fill="none" stroke="url(#g6090)" stroke-width="1.4" stroke-linejoin="miter" stroke-linecap="round"/>
<polyline points="1025.3,644 1046.5,644 1067.7,644 1088.9,644 1110.2,644 1131.4,644 1152.6,644 1173.8,644 1195,644 1216.2,644 1237.5,644 1258.7,644 1279.9,644 1281,644 1300.5,643.9 1320,643.8 1339.4,643.7 1358.9,643.6 1378.4,643.5 1397.9,643.4 1417.4,643.4 1436.8,643.3 1456.3,643.3 1475.8,643.2 1495.3,643.2 1514.8,643.2 1534.3,643.1 1553.7,643.1 1573.2,643.1 1592.7,643.1 1612.2,643 1631.7,643 1651.1,643 1670.6,643" fill="none" stroke="#22a784" stroke-width="4.5" stroke-linejoin="miter" stroke-linecap="round"/>
<polyline points="1025.3,644 1046.5,644 1067.7,644 1088.9,644 1110.2,644 1131.4,644 1152.6,644 1173.8,644 1195,644 1216.2,644 1237.5,644 1258.7,644 1279.9,644 1281,644 1300.5,643.9 1320,643.8 1339.4,643.7 1358.9,643.6 1378.4,643.5 1397.9,643.4 1417.4,643.4 1436.8,643.3 1456.3,643.3 1475.8,643.2 1495.3,643.2 1514.8,643.2 1534.3,643.1 1553.7,643.1 1573.2,643.1 1592.7,643.1 1612.2,643 1631.7,643 1651.1,643 1670.6,643" fill="none" stroke="#fde725" stroke-width="1.9" stroke-linejoin="miter" stroke-linecap="round"/>
</g>
</g>
<line x1="1025.3" y1="162" x2="1025.3" y2="683" stroke="#000" stroke-width="3.5" stroke-linecap="butt"/>
<line x1="1669.3" y1="162" x2="1669.3" y2="683" stroke="#000" stroke-width="3.5" stroke-linecap="butt"/>
<line x1="1023.8" y1="681" x2="1670.8" y2="681" stroke="#000" stroke-width="3.5" stroke-linecap="butt"/>
<line x1="1023.8" y1="163" x2="1670.8" y2="163" stroke="#000" stroke-width="4" stroke-linecap="butt"/>
<line x1="1015.3" y1="681" x2="1025.3" y2="681" stroke="#000" stroke-width="3" stroke-linecap="butt"/>
<text transform="translate(989.26,689.88) scale(1,0.9855)" font-family="'DejaVu Sans', 'Liberation Sans', sans-serif" font-size="28.49" font-weight="normal">0</text>
<line x1="1015.3" y1="577.4" x2="1025.3" y2="577.4" stroke="#000" stroke-width="3" stroke-linecap="butt"/>
<text transform="translate(990.26,586.49) scale(1,0.9855)" font-family="'DejaVu Sans', 'Liberation Sans', sans-serif" font-size="28.49" font-weight="normal">2</text>
<line x1="1015.3" y1="473.8" x2="1025.3" y2="473.8" stroke="#000" stroke-width="3" stroke-linecap="butt"/>
<text transform="translate(988.97,482.75) scale(1,0.9855)" font-family="'DejaVu Sans', 'Liberation Sans', sans-serif" font-size="28.49" font-weight="normal">4</text>
<line x1="1015.3" y1="370.2" x2="1025.3" y2="370.2" stroke="#000" stroke-width="3" stroke-linecap="butt"/>
<text transform="translate(989.12,379.08) scale(1,0.9855)" font-family="'DejaVu Sans', 'Liberation Sans', sans-serif" font-size="28.49" font-weight="normal">6</text>
<line x1="1015.3" y1="266.6" x2="1025.3" y2="266.6" stroke="#000" stroke-width="3" stroke-linecap="butt"/>
<text transform="translate(989.26,275.48) scale(1,0.9855)" font-family="'DejaVu Sans', 'Liberation Sans', sans-serif" font-size="28.49" font-weight="normal">8</text>
<line x1="1015.3" y1="163" x2="1025.3" y2="163" stroke="#000" stroke-width="3" stroke-linecap="butt"/>
<text transform="translate(971.17,171.88) scale(1,0.9855)" font-family="'DejaVu Sans', 'Liberation Sans', sans-serif" font-size="28.49" font-weight="normal">10</text>
<line x1="1025.3" y1="681" x2="1025.3" y2="691" stroke="#000" stroke-width="3" stroke-linecap="butt"/>
<text transform="translate(1013.91,726.69) scale(1,0.9646)" font-family="'DejaVu Sans', 'Liberation Sans', sans-serif" font-size="28.01" font-weight="normal">0</text>
<line x1="1113.7" y1="681" x2="1113.7" y2="691" stroke="#000" stroke-width="3" stroke-linecap="butt"/>
<text transform="translate(1093.27,726.69) scale(1,0.9646)" font-family="'DejaVu Sans', 'Liberation Sans', sans-serif" font-size="28.01" font-weight="normal">20</text>
<line x1="1202.1" y1="681" x2="1202.1" y2="691" stroke="#000" stroke-width="3" stroke-linecap="butt"/>
<text transform="translate(1182.02,726.69) scale(1,0.9646)" font-family="'DejaVu Sans', 'Liberation Sans', sans-serif" font-size="28.01" font-weight="normal">40</text>
<line x1="1290.5" y1="681" x2="1290.5" y2="691" stroke="#000" stroke-width="3" stroke-linecap="butt"/>
<text transform="translate(1270.14,726.69) scale(1,0.9646)" font-family="'DejaVu Sans', 'Liberation Sans', sans-serif" font-size="28.01" font-weight="normal">60</text>
<line x1="1378.9" y1="681" x2="1378.9" y2="691" stroke="#000" stroke-width="3" stroke-linecap="butt"/>
<text transform="translate(1358.61,726.69) scale(1,0.9646)" font-family="'DejaVu Sans', 'Liberation Sans', sans-serif" font-size="28.01" font-weight="normal">80</text>
<line x1="1467.3" y1="681" x2="1467.3" y2="691" stroke="#000" stroke-width="3" stroke-linecap="butt"/>
<text transform="translate(1437.42,726.69) scale(1,0.9646)" font-family="'DejaVu Sans', 'Liberation Sans', sans-serif" font-size="28.01" font-weight="normal">100</text>
<line x1="1555.7" y1="681" x2="1555.7" y2="691" stroke="#000" stroke-width="3" stroke-linecap="butt"/>
<text transform="translate(1525.82,726.69) scale(1,0.9646)" font-family="'DejaVu Sans', 'Liberation Sans', sans-serif" font-size="28.01" font-weight="normal">120</text>
<line x1="1644.1" y1="681" x2="1644.1" y2="691" stroke="#000" stroke-width="3" stroke-linecap="butt"/>
<text transform="translate(1614.22,726.69) scale(1,0.9646)" font-family="'DejaVu Sans', 'Liberation Sans', sans-serif" font-size="28.01" font-weight="normal">140</text>
<text transform="translate(1234.84,778.00) scale(1,0.9310)" font-family="'DejaVu Sans', 'Liberation Sans', sans-serif" font-size="48.26" font-weight="normal">Time (min)</text>
<text transform="translate(964.00,610.56) rotate(-90) scale(1,0.9873)" font-family="'DejaVu Sans', 'Liberation Sans', sans-serif" font-size="48.01" font-weight="normal">Time of Flight (μs)</text>
<rect x="1727" y="160.6" width="23" height="519.8" fill="url(#cb)" stroke="#222" stroke-width="1.2"/>
<line x1="1750" y1="680.4" x2="1757" y2="680.4" stroke="#000" stroke-width="2" stroke-linecap="butt"/>
<text transform="translate(1765.07,693.46) scale(1,0.9799)" font-family="'DejaVu Sans', 'Liberation Sans', sans-serif" font-size="29.74" font-weight="normal">0</text>
<line x1="1750" y1="576.4" x2="1757" y2="576.4" stroke="#000" stroke-width="2" stroke-linecap="butt"/>
<text transform="translate(1764.77,589.50) scale(1,0.9799)" font-family="'DejaVu Sans', 'Liberation Sans', sans-serif" font-size="29.74" font-weight="normal">20</text>
<line x1="1750" y1="472.5" x2="1757" y2="472.5" stroke="#000" stroke-width="2" stroke-linecap="butt"/>
<text transform="translate(1765.51,485.54) scale(1,0.9799)" font-family="'DejaVu Sans', 'Liberation Sans', sans-serif" font-size="29.74" font-weight="normal">40</text>
<line x1="1750" y1="368.5" x2="1757" y2="368.5" stroke="#000" stroke-width="2" stroke-linecap="butt"/>
<text transform="translate(1764.92,381.58) scale(1,0.9799)" font-family="'DejaVu Sans', 'Liberation Sans', sans-serif" font-size="29.74" font-weight="normal">60</text>
<line x1="1750" y1="264.6" x2="1757" y2="264.6" stroke="#000" stroke-width="2" stroke-linecap="butt"/>
<text transform="translate(1765.07,277.62) scale(1,0.9799)" font-family="'DejaVu Sans', 'Liberation Sans', sans-serif" font-size="29.74" font-weight="normal">80</text>
<line x1="1750" y1="160.6" x2="1757" y2="160.6" stroke="#000" stroke-width="2" stroke-linecap="butt"/>
<text transform="translate(1763.73,173.66) scale(1,0.9799)" font-family="'DejaVu Sans', 'Liberation Sans', sans-serif" font-size="29.74" font-weight="normal">100</text>
<text transform="translate(1713.90,536.09) rotate(-90) scale(1,0.9708)" font-family="'DejaVu Sans', 'Liberation Sans', sans-serif" font-size="29.07" font-weight="normal">Amplitude (%)</text>
<text transform="translate(72.15,822.08) scale(1,0.8917)" font-family="'Liberation Sans', Arial, Helvetica, sans-serif" font-size="44.98" font-weight="bold">(c)</text>
<rect x="110" y="885.6" width="644.3" height="57.2" fill="#000"/>
<rect x="112.2" y="887.8" width="243.4" height="50.2" fill="#fb2727"/>
<rect x="361" y="888.8" width="391.1" height="49.2" fill="#33be74"/>
<text transform="translate(125.84,925.60) scale(1,0.9956)" font-family="'Liberation Sans', Arial, Helvetica, sans-serif" font-size="47.02" font-weight="normal">Discharge</text>
<text transform="translate(469.84,925.60) scale(1,1.0196)" font-family="'Liberation Sans', Arial, Helvetica, sans-serif" font-size="47.19" font-weight="normal">Charge</text>
<polyline points="112.6,1392 114.8,1385.6 117.8,1376.4 121,1367 123.9,1358.3 126.9,1349.3 130,1340 133.4,1329.7 136.9,1319.1 140,1310 142.3,1303.5 144.1,1298.5 146,1294 148,1289.4 150.1,1285.3 152,1282 153.8,1279.7 155.4,1278.2 157,1277 158.4,1275.8 159.6,1274.9 161,1274.5 162.6,1274.7 164.3,1275.4 166,1276 167.6,1276.4 169.2,1276.8 171,1277 173.2,1277.1 175.7,1277.1 178,1277 180.1,1276.8 182.1,1276.5 184,1276.3 185.8,1276.4 187.5,1276.5 189.5,1276.3 191.8,1275.5 194.4,1274.3 197,1273 199.7,1271.6 202.5,1270.1 205.3,1268.4 208.1,1266.4 211,1264.2 214,1262 217.1,1259.8 220.4,1257.6 223.7,1255.3 227.1,1252.8 230.5,1250.2 234,1247.5 237.7,1244.8 241.4,1242 244.7,1239.5 247.3,1237.5 249.6,1235.8 252,1234 254.6,1232.1 257.3,1230.2 260.5,1227.6 264.6,1224.2 269.1,1220.2 273.7,1215.8 278,1211.2 282.2,1206.2 286.8,1200 292,1192 297.5,1182.9 303,1173.4 308.3,1163.8 313.7,1153.8 319,1144.2 324.6,1135.1 330.1,1126.2 335,1117.6 338.9,1109.1 342.2,1100.8 345,1093 347.3,1086.2 349.1,1079.8 351,1072.4 353.1,1063 355.1,1052.7 357,1043 358.5,1034.4 359.9,1026.6 361,1020 362,1014.8 362.8,1010.9 363.3,1008.3" fill="none" stroke="#4242f8" stroke-width="3" stroke-linejoin="round" stroke-linecap="round"/>
<polyline points="363.3,1008.3 364,1016.3 364.9,1027.8 366,1040 367.1,1051.8 368.3,1064.2 369.5,1077.7 370.6,1092.7 371.8,1108.8 373,1125 374.4,1141.3 375.8,1157.7 377.5,1173.4 379.4,1187.7 381.5,1201.2 384,1215 387,1230 390.4,1245.2 393.4,1258.5 395.7,1268.2 397.6,1275.9 400,1284.2 403.3,1294.9 407.1,1306.3 410.5,1315.8 413.2,1322 415.6,1326.3 418,1330 420.6,1333.6 423.3,1336.6 426.3,1339.5 429.6,1342.4 433.2,1345.1 436.8,1347.4 440.4,1349.2 444.1,1350.6 447.4,1351.3 449.8,1351.1 452,1350.2 455.3,1348.7 460.8,1346.6 467.4,1343.8 473.7,1340.8 479.1,1337.6 484.1,1334 489.5,1330.3 495.5,1326.3 501.9,1322 507.9,1317.9 513.4,1314 518.5,1310.3 523.7,1306.6 529.2,1303 534.6,1299.5 539.5,1296 543.6,1292.5 547,1289 550,1285.5 552.4,1282 554.3,1278.4 556,1275 557.6,1271.7 559.1,1268.6 560.5,1265.8 561.8,1263.4 562.9,1261.2 564,1259.5 565,1258.1 565.9,1257 567.1,1256.6 568.7,1256.8 570.6,1257.6 572.4,1259.2 574,1261.8 575.5,1265.3 577,1269 578.5,1272.9 580,1277.1 581.6,1281.6 583.4,1286.5 585.2,1291.8 587,1297 588.6,1302 590.2,1306.9 592.1,1311.8 594.4,1316.6 597.1,1321.2 600,1326 603.2,1331 606.7,1336.2 610.5,1340.8 614.7,1344.6 619.2,1348 623.7,1351.3 627.9,1354.8 632,1358.3 636.8,1361.8 642.3,1365.2 648.4,1368.7 655.3,1372.4 663.7,1376.7 672.9,1381.2 681.6,1385.5 689.3,1389.5 696.4,1393.2 702.6,1396 707.4,1397.3 711.3,1397.6 715.8,1398.2 721.8,1399.6 728.5,1401.2 734.2,1402.1 738.7,1401.8 742.3,1400.8 744.7,1400" fill="none" stroke="#4242f8" stroke-width="3" stroke-linejoin="round" stroke-linecap="round"/>
<line x1="112.6" y1="939.5" x2="112.6" y2="1459.5" stroke="#000" stroke-width="4" stroke-linecap="butt"/>
<line x1="752.6" y1="939.5" x2="752.6" y2="1459.5" stroke="#000" stroke-width="4" stroke-linecap="butt"/>
<line x1="110.6" y1="1457.5" x2="754.6" y2="1457.5" stroke="#000" stroke-width="4" stroke-linecap="butt"/>
<line x1="110.6" y1="941" x2="754.6" y2="941" stroke="#000" stroke-width="5" stroke-linecap="butt"/>
<line x1="102.6" y1="1414.6" x2="112.6" y2="1414.6" stroke="#000" stroke-width="3" stroke-linecap="butt"/>
<text transform="translate(64.70,1424.26) scale(1,1.0328)" font-family="'Liberation Sans', Arial, Helvetica, sans-serif" font-size="28.50" font-weight="normal">25</text>
<line x1="102.6" y1="1328.7" x2="112.6" y2="1328.7" stroke="#000" stroke-width="3" stroke-linecap="butt"/>
<text transform="translate(64.70,1338.36) scale(1,1.0328)" font-family="'Liberation Sans', Arial, Helvetica, sans-serif" font-size="28.50" font-weight="normal">26</text>
<line x1="102.6" y1="1242.8" x2="112.6" y2="1242.8" stroke="#000" stroke-width="3" stroke-linecap="butt"/>
<text transform="translate(64.99,1252.60) scale(1,1.0328)" font-family="'Liberation Sans', Arial, Helvetica, sans-serif" font-size="28.50" font-weight="normal">27</text>
<line x1="102.6" y1="1156.9" x2="112.6" y2="1156.9" stroke="#000" stroke-width="3" stroke-linecap="butt"/>
<text transform="translate(64.70,1166.56) scale(1,1.0328)" font-family="'Liberation Sans', Arial, Helvetica, sans-serif" font-size="28.50" font-weight="normal">28</text>
<line x1="102.6" y1="1071" x2="112.6" y2="1071" stroke="#000" stroke-width="3" stroke-linecap="butt"/>
<text transform="translate(64.84,1080.66) scale(1,1.0328)" font-family="'Liberation Sans', Arial, Helvetica, sans-serif" font-size="28.50" font-weight="normal">29</text>
<line x1="102.6" y1="985.1" x2="112.6" y2="985.1" stroke="#000" stroke-width="3" stroke-linecap="butt"/>
<text transform="translate(64.56,994.76) scale(1,1.0328)" font-family="'Liberation Sans', Arial, Helvetica, sans-serif" font-size="28.50" font-weight="normal">30</text>
<line x1="112.6" y1="1457.5" x2="112.6" y2="1467.5" stroke="#000" stroke-width="3" stroke-linecap="butt"/>
<text transform="translate(105.27,1496.40) scale(1,1.0361)" font-family="'Liberation Sans', Arial, Helvetica, sans-serif" font-size="28.68" font-weight="normal">0</text>
<line x1="200.9" y1="1457.5" x2="200.9" y2="1467.5" stroke="#000" stroke-width="3" stroke-linecap="butt"/>
<text transform="translate(185.47,1496.40) scale(1,1.0361)" font-family="'Liberation Sans', Arial, Helvetica, sans-serif" font-size="28.68" font-weight="normal">20</text>
<line x1="289.2" y1="1457.5" x2="289.2" y2="1467.5" stroke="#000" stroke-width="3" stroke-linecap="butt"/>
<text transform="translate(274.20,1496.40) scale(1,1.0361)" font-family="'Liberation Sans', Arial, Helvetica, sans-serif" font-size="28.68" font-weight="normal">40</text>
<line x1="377.5" y1="1457.5" x2="377.5" y2="1467.5" stroke="#000" stroke-width="3" stroke-linecap="butt"/>
<text transform="translate(362.07,1496.40) scale(1,1.0361)" font-family="'Liberation Sans', Arial, Helvetica, sans-serif" font-size="28.68" font-weight="normal">60</text>
<line x1="465.8" y1="1457.5" x2="465.8" y2="1467.5" stroke="#000" stroke-width="3" stroke-linecap="butt"/>
<text transform="translate(450.44,1496.40) scale(1,1.0361)" font-family="'Liberation Sans', Arial, Helvetica, sans-serif" font-size="28.68" font-weight="normal">80</text>
<line x1="554.1" y1="1457.5" x2="554.1" y2="1467.5" stroke="#000" stroke-width="3" stroke-linecap="butt"/>
<text transform="translate(533.65,1496.40) scale(1,1.0361)" font-family="'Liberation Sans', Arial, Helvetica, sans-serif" font-size="28.68" font-weight="normal">100</text>
<line x1="642.4" y1="1457.5" x2="642.4" y2="1467.5" stroke="#000" stroke-width="3" stroke-linecap="butt"/>
<text transform="translate(621.95,1496.40) scale(1,1.0361)" font-family="'Liberation Sans', Arial, Helvetica, sans-serif" font-size="28.68" font-weight="normal">120</text>
<line x1="730.7" y1="1457.5" x2="730.7" y2="1467.5" stroke="#000" stroke-width="3" stroke-linecap="butt"/>
<text transform="translate(710.25,1496.40) scale(1,1.0361)" font-family="'Liberation Sans', Arial, Helvetica, sans-serif" font-size="28.68" font-weight="normal">140</text>
<text transform="translate(335.05,1544.10) scale(1,1.0254)" font-family="'Liberation Sans', Arial, Helvetica, sans-serif" font-size="47.35" font-weight="normal">Time (min)</text>
<text transform="translate(45.20,1364.74) rotate(-90)" font-family="'Liberation Sans', Arial, Helvetica, sans-serif" font-size="48.41" textLength="359.81" lengthAdjust="spacingAndGlyphs">Temperature (<tspan font-size="31.46" dy="-16.70">o</tspan><tspan dy="16.70">C)</tspan></text>
<text transform="translate(978.44,822.08) scale(1,0.8481)" font-family="'Liberation Sans', Arial, Helvetica, sans-serif" font-size="47.29" font-weight="bold">(d)</text>
<rect x="1030" y="884.4" width="644.8" height="56.7" fill="#000"/>
<rect x="1032.2" y="886.6" width="244.1" height="49.7" fill="#fb2727"/>
<rect x="1281.7" y="887.6" width="390.9" height="48.7" fill="#33be74"/>
<text transform="translate(1048.23,927.00) scale(1,1.0152)" font-family="'Liberation Sans', Arial, Helvetica, sans-serif" font-size="47.11" font-weight="normal">Discharge</text>
<text transform="translate(1393.45,926.20) scale(1,0.9880)" font-family="'Liberation Sans', Arial, Helvetica, sans-serif" font-size="46.94" font-weight="normal">Charge</text>
<polyline points="1032.7,1457.6 1034.2,1455.3 1036.2,1452.1 1038.6,1448.4 1041,1445 1043.4,1441.8 1046,1438.6 1048.5,1435.5 1051,1432.6 1053.3,1430 1055.5,1427.5 1057.7,1425.2 1060,1423 1062.3,1420.9 1064.7,1418.8 1067,1417 1069.5,1415.5 1072,1414.4 1074.5,1413.6 1077.2,1413.2 1080,1412.9 1083,1413 1086.3,1413.4 1089.7,1413.9 1093.2,1414.2 1096.8,1414.4 1100.4,1414.7 1104.4,1414.7 1109,1414.2 1114,1413.1 1119.4,1411.5 1125.5,1409.6 1132.7,1407.6 1141.8,1405.6 1152.3,1403.4 1162.9,1401 1172.2,1398.4 1179.7,1395.4 1186.2,1392.1 1192.2,1388.7 1198.5,1385.3 1205.2,1382 1212,1378.6 1218.6,1375.3 1224.8,1372 1230.5,1368.9 1235.8,1365.8 1240.8,1362.6 1245.8,1359 1250.8,1354.7 1255.7,1349.9 1260.3,1345 1264.3,1340.5 1267.6,1336.3 1270.3,1332.4 1272.7,1328.6 1275,1325 1277.3,1321.5 1279.5,1318 1281.4,1315 1282.7,1312.9 1283.5,1319 1284.6,1327.7 1285.8,1337.1 1287,1345 1288,1351 1289,1356.1 1290,1360.6 1291,1365 1292.2,1369.1 1293.4,1372.8 1294.6,1376.4 1295.8,1380 1296.8,1383.8 1297.6,1387.6 1298.6,1391.3 1300,1395 1302,1398.7 1304.3,1402.4 1306.8,1405.9 1309,1409 1310.7,1411.5 1312.1,1413.5 1313.6,1415.5 1315.8,1418 1318.9,1421.5 1322.7,1425.7 1326.6,1429.6 1330,1432.6 1332.7,1434.2 1334.9,1434.8 1337.1,1435.2 1339.5,1436 1342.2,1437.4 1344.9,1439.1 1347.8,1440.7 1351,1441.8 1354.2,1442.3 1357.5,1442.4 1361.2,1442.3 1365.8,1442 1371.2,1441.8 1377.3,1441.5 1384.2,1440.8 1392,1439.5 1401.1,1437.1 1411.5,1434 1421.9,1430.6 1431.6,1427.6 1440.5,1425 1449.1,1422.7 1456.8,1420.4 1463.2,1418.4 1467.8,1416.6 1471.1,1415 1473.6,1413.5 1476,1412 1478.4,1410.3 1480.4,1408.5 1482.3,1406.9 1484.2,1406 1485.9,1405.5 1487.5,1405.4 1489.3,1406.1 1492,1407.9 1495.7,1411.5 1500.1,1416.4 1505.1,1421.7 1510.5,1426.3 1516.5,1430.1 1523.2,1433.6 1530,1436.7 1536.8,1439.5 1543.4,1441.9 1550,1443.9 1556.6,1445.6 1563.2,1447.4 1569.8,1449.2 1576.4,1451 1582.9,1452.6 1589.5,1454 1596.7,1455.2 1604.3,1456.1 1611.1,1456.9 1615.8,1457.4" fill="none" stroke="#9d10e0" stroke-width="3.4" stroke-linejoin="round" stroke-linecap="round"/>
<polyline points="1038,1457.6 1041.4,1453.1 1046.2,1446.6 1051.6,1439.3 1056.4,1432.6 1060.4,1426.9 1064.1,1421.4 1067.9,1415.6 1072.2,1409 1077,1401.4 1082,1393 1087.5,1384.1 1093.2,1374.7 1099.4,1364.7 1106,1354.1 1112.8,1343.3 1119.5,1332.6 1126.1,1322 1132.6,1311.2 1139.2,1300.7 1145.8,1290.5 1152.4,1280.9 1159,1271.6 1165.6,1262.6 1172.2,1253.7 1178.8,1244.6 1185.4,1235.5 1191.9,1226.9 1198.5,1219.5 1205.1,1213.8 1211.7,1209.2 1218.3,1205.2 1224.8,1201 1231.4,1196.8 1237.9,1192.7 1244.3,1188.4 1250,1183.3 1255.1,1176.8 1259.8,1169.4 1263.9,1161.9 1267.5,1155.3 1270.4,1149.9 1272.6,1145.3 1274.5,1140.8 1276.3,1136 1278.2,1130.2 1280,1123.8 1281.6,1118 1282.7,1114 1284.1,1118.8 1286.1,1125.8 1288.3,1133.2 1290.4,1139.5 1292.1,1144.1 1293.7,1148 1295.4,1151.6 1297.4,1155.3 1299.7,1159.3 1302.1,1163.3 1304.8,1167.2 1307.9,1171 1311.3,1174.5 1315,1177.9 1319.1,1181.3 1323.7,1185 1329,1189.2 1335,1193.6 1341,1198.1 1346.5,1202.6 1351.2,1206.7 1355.5,1210.6 1359.6,1214.9 1364,1220 1368.6,1226.1 1373.4,1232.8 1378.2,1240.2 1383.3,1248 1388.2,1255.9 1393,1264.1 1398.5,1273.2 1405.3,1284.2 1413.9,1297.7 1423.9,1313.1 1434.4,1329.2 1444.7,1344.7 1455,1360.2 1465.6,1376 1475.6,1390.6 1484.2,1402.6 1490.6,1411.1 1495.6,1416.9 1500.1,1421.5 1505.3,1426.3 1511.4,1431.5 1517.8,1436.4 1524.5,1440.9 1531.6,1444.7 1539.3,1447.8 1547.4,1450.3 1555.5,1452.3 1563.2,1454 1570.8,1455.3 1578.3,1456.1 1584.9,1456.6 1589.5,1457" fill="none" stroke="#d23fcf" stroke-width="3.4" stroke-linejoin="round" stroke-linecap="round"/>
<polyline points="1032.7,1457.6 1035.5,1450.4 1039.5,1440.2 1044,1428.4 1048.5,1416.8 1053,1404.9 1057.7,1392.2 1062.4,1380 1066.9,1369.5 1070.8,1361.9 1074.3,1356.2 1078.1,1350.6 1082.7,1343.2 1088.4,1333.5 1094.9,1322.4 1101.8,1310.6 1109,1298.4 1116.2,1286.1 1123.6,1273.4 1131.7,1260.1 1140.6,1245.8 1151.6,1229.5 1164.1,1211.5 1176,1194.3 1185.3,1180 1190,1170.8 1191.6,1164.9 1193.4,1159 1198.5,1149.5 1209.1,1134.4 1223.1,1115.9 1237.3,1097.1 1248.5,1081 1255.7,1068.8 1260.8,1058.7 1264.5,1049.5 1268,1040 1271.3,1029.7 1273.9,1019.4 1276.1,1009.4 1278,1000 1279.7,990.7 1281,981.5 1282,973.6 1282.7,968 1283.4,973.5 1284.5,981.2 1285.7,990.4 1287,1000 1288.4,1010.2 1289.9,1021.4 1291.6,1032.9 1293.2,1044 1294.8,1054.6 1296.4,1064.9 1298.1,1075.1 1300,1085 1302.3,1094.7 1304.7,1104.3 1307.4,1113.5 1310,1122 1312.4,1129.5 1314.8,1136.3 1317.5,1143 1321,1150 1325.2,1157.4 1329.9,1164.9 1335.4,1172.9 1342,1181.6 1350.1,1191.2 1359.4,1201.5 1369.2,1212.4 1379,1223.7 1388.6,1235.5 1398.2,1247.9 1408.1,1260.6 1418.4,1273.7 1429.8,1288.1 1442.1,1303.7 1453.7,1318 1463.2,1329 1469.7,1334.9 1474.2,1337.3 1477.8,1338.8 1481.6,1342 1485.7,1347.5 1489.5,1353.9 1493.3,1360.9 1497.4,1368.4 1501.8,1376.6 1506.3,1385.7 1511,1394.6 1515.8,1402.6 1520.7,1409.5 1525.8,1415.6 1531.1,1421.2 1536.8,1426.3 1543,1430.9 1549.7,1435 1556.5,1438.6 1563.2,1442 1569.8,1445.1 1576.4,1448 1582.9,1450.5 1589.5,1452.6 1596.7,1454.3 1604.3,1455.7 1611.1,1456.7 1615.8,1457.4" fill="none" stroke="#fa8a70" stroke-width="3.4" stroke-linejoin="round" stroke-linecap="round"/>
<polyline points="1032.7,1456.3 1033.1,1455.2 1033.7,1451.8 1034.3,1445 1035,1441.6 1035.6,1441.6 1036.2,1438.2 1036.9,1434.8 1038,1431.4 1039.5,1428 1041.4,1421.2 1042.5,1417.8 1043.5,1414.4 1044.7,1411 1045.8,1407.6 1047,1404.2 1048.3,1400.8 1049.6,1397.4 1050.9,1394 1052.3,1390.6 1053.7,1387.2 1055,1387.2 1056.4,1383.8 1057.7,1380.4 1059,1377 1060.3,1370.2 1061.7,1366.8 1063,1363.4 1064.3,1360 1065.6,1356.6 1066.9,1353.2 1068.2,1349.8 1069.5,1346.4 1070.7,1346.4 1072,1343 1073.3,1339.6 1074.6,1336.2 1076,1336.2 1077.4,1332.8 1078.9,1329.4 1081.4,1329.4 1082.5,1326 1085.7,1326 1086.9,1322.6 1089.4,1322.6 1090.6,1319.2 1091.7,1319.2 1092.7,1315.8 1093.8,1315.8 1094.8,1312.4 1096,1312.4 1097.2,1309 1098.3,1305.6 1099.5,1305.6 1100.7,1302.2 1101.9,1298.8 1103.1,1298.8 1104.3,1295.4 1105.5,1295.4 1106.6,1292 1107.8,1288.6 1109,1288.6 1110.2,1285.2 1111.4,1285.2 1112.5,1281.8 1113.7,1281.8 1114.9,1278.4 1116.1,1275 1117.3,1275 1118.5,1271.6 1119.7,1271.6 1120.8,1268.2 1122,1268.2 1123.2,1264.8 1124.2,1264.8 1125.3,1261.4 1126.3,1261.4 1127.4,1258 1128.7,1258 1130,1254.6 1131.3,1254.6 1132.4,1251.2 1133.6,1247.8 1134.8,1247.8 1135.9,1244.4 1138,1244.4 1139.3,1241 1140.6,1237.6 1143,1237.6 1143.9,1234.2 1145.8,1234.2 1147,1230.8 1148.1,1227.4 1149.3,1227.4 1150.4,1224 1151.6,1224 1152.7,1220.6 1153.9,1220.6 1155,1217.2 1156.1,1217.2 1157.2,1213.8 1158.3,1210.4 1159.4,1210.4 1160.5,1207 1161.6,1207 1162.9,1203.6 1164.3,1203.6 1165.4,1200.2 1166.5,1200.2 1167.6,1196.8 1168.7,1196.8 1169.8,1193.4 1172,1193.4 1173.1,1190 1174.2,1190 1175.4,1186.6 1176.5,1186.6 1177.7,1183.2 1178.8,1183.2 1180,1179.8 1181.9,1176.4 1182.8,1173 1183.7,1169.6 1185.3,1162.8 1186.6,1162.8 1187.9,1159.4 1189,1159.4 1190,1156 1191.1,1156 1192.3,1152.6 1193.5,1152.6 1194.6,1149.2 1195.9,1149.2 1197.2,1145.8 1198.5,1145.8 1199.6,1142.4 1200.7,1139 1201.8,1139 1202.9,1135.6 1204.1,1132.2 1205.3,1132.2 1206.5,1128.8 1207.7,1125.4 1208.9,1122 1210.1,1122 1211.3,1118.6 1212.6,1115.2 1213.6,1115.2 1214.7,1111.8 1215.8,1108.4 1216.9,1108.4 1218.1,1105 1219.2,1105 1220.4,1101.6 1221.4,1098.2 1223.4,1098.2 1224.5,1094.8 1225.5,1094.8 1226.5,1091.4 1227.6,1091.4 1228.8,1088 1230,1088 1231.1,1084.6 1232.2,1081.2 1233.3,1081.2 1234.4,1077.8 1235.6,1077.8 1236.8,1074.4 1238,1074.4 1239.3,1071 1240.5,1067.6 1241.7,1067.6 1242.9,1064.2 1244.1,1060.8 1245.2,1060.8 1246.3,1057.4 1247.4,1057.4 1248.5,1054 1249.7,1054 1251,1050.6 1252.2,1047.2 1253.3,1043.8 1254.4,1043.8 1255.6,1040.4 1256.6,1040.4 1257.6,1037 1258.6,1033.6 1260.1,1030.2 1261.6,1026.8 1263,1026.8 1264.5,1023.4 1265.9,1020 1267.2,1016.6 1268.5,1013.2 1269.8,1013.2 1270.9,1009.8 1272,1006.4 1273.8,1003 1275.4,996.2 1276.7,992.8 1278,986 1279.4,975.8 1280.7,962.2 1281.9,953 1282.7,945.5 1283.5,952.6 1284.5,962.2 1285.8,975.8 1287,986 1288.2,996.2 1289.4,1006.4 1290.7,1016.6 1292,1023.4 1293.2,1026.8 1294.3,1030.2 1295.7,1033.6 1297.4,1037 1298.6,1043.8 1299.8,1047.2 1301.2,1054 1302.6,1060.8 1304,1067.6 1305.5,1074.4 1306.7,1081.2 1308,1088 1310,1094.8 1311.6,1101.6 1313.2,1105 1315,1111.8 1316.1,1111.8 1317.2,1115.2 1318.4,1118.6 1319.6,1118.6 1320.7,1122 1321.9,1122 1323.7,1125.4 1324.9,1128.8 1325.6,1135.6 1326.2,1139 1327.2,1142.4 1328.5,1145.8 1331.9,1145.8 1333,1149.2 1334.2,1149.2 1335.2,1152.6 1336.2,1152.6 1337.2,1156 1338.4,1159.4 1339.6,1159.4 1340.8,1162.8 1342,1166.2 1343.3,1166.2 1344.5,1169.6 1345.8,1173 1347,1173 1348.2,1176.4 1349.4,1176.4 1350.6,1179.8 1353,1179.8 1354.2,1183.2 1356.7,1183.2 1357.8,1186.6 1361.2,1186.6 1362.3,1190 1365.2,1190 1366.5,1193.4 1367.8,1193.4 1369,1196.8 1371.5,1196.8 1372.8,1200.2 1381.9,1200.2 1383.3,1203.6 1385.3,1203.6 1386.3,1207 1388.5,1207 1389.6,1210.4 1390.6,1210.4 1391.7,1213.8 1394.2,1213.8 1395.6,1217.2 1398,1217.2 1399,1220.6 1404.4,1220.6 1405.9,1224 1411.6,1224 1412.7,1227.4 1416.7,1227.4 1417.8,1230.8 1418.9,1234.2 1420.6,1237.6 1422.6,1244.4 1424,1244.4 1425.4,1247.8 1426.4,1247.8 1427.5,1251.2 1430.6,1251.2 1431.6,1254.6 1435.7,1254.6 1436.7,1258 1439.9,1258 1441.1,1261.4 1443.5,1261.4 1444.7,1264.8 1446.8,1264.8 1447.8,1268.2 1448.8,1268.2 1450.1,1271.6 1451.4,1271.6 1452.6,1275 1453.9,1278.4 1455.2,1278.4 1456.4,1281.8 1457.5,1281.8 1458.5,1285.2 1460.5,1285.2 1461.6,1288.6 1465.1,1288.6 1466.3,1292 1472.3,1292 1473.5,1295.4 1477.9,1295.4 1479,1298.8 1481.4,1298.8 1482.6,1302.2 1484.8,1302.2 1485.8,1305.6 1486.8,1305.6 1487.8,1309 1488.9,1309 1489.9,1312.4 1491,1312.4 1492,1315.8 1493.1,1319.2 1494.1,1322.6 1495.2,1326 1496.2,1329.4 1497.3,1332.8 1498.3,1336.2 1499.4,1339.6 1500.5,1343 1501.6,1346.4 1502.8,1349.8 1504.1,1353.2 1505.3,1356.6 1506.4,1360 1507.5,1363.4 1508.6,1363.4 1509.7,1366.8 1510.9,1370.2 1512.1,1370.2 1513.3,1373.6 1514.5,1373.6 1515.7,1377 1516.9,1380.4 1518.1,1380.4 1519.4,1383.8 1520.4,1383.8 1521.5,1387.2 1522.6,1387.2 1523.7,1390.6 1524.9,1390.6 1526,1394 1527.2,1394 1528.6,1397.4 1530.1,1400.8 1531.1,1400.8 1532.1,1404.2 1534.3,1404.2 1535.6,1407.6 1537.9,1407.6 1539,1411 1542.5,1411 1543.7,1414.4 1548.4,1414.4 1549.5,1417.8 1554.8,1417.8 1555.8,1421.2 1561,1421.2 1562.1,1424.6 1566.2,1424.6 1567.2,1428 1572.4,1428 1573.4,1431.4 1578.6,1431.4 1579.6,1434.8 1585.1,1434.8 1586.2,1438.2 1593,1438.2 1594.1,1441.6 1601.9,1441.6 1603,1445 1612.6,1445 1613.7,1448.4 1623.5,1448.4 1624.6,1451.8 1637.7,1451.8 1638.8,1455.2 1652,1455.2 1653,1451.8 1665.9,1451.8 1667,1451.3" fill="none" stroke="#3f3ff7" stroke-width="3.4" stroke-linejoin="round" stroke-linecap="round"/>
<line x1="1032" y1="937" x2="1032" y2="1459.8" stroke="#000" stroke-width="4" stroke-linecap="butt"/>
<line x1="1672.7" y1="937" x2="1672.7" y2="1459.8" stroke="#000" stroke-width="4" stroke-linecap="butt"/>
<line x1="1030" y1="1457.8" x2="1674.7" y2="1457.8" stroke="#000" stroke-width="4" stroke-linecap="butt"/>
<line x1="1030" y1="938.5" x2="1674.7" y2="938.5" stroke="#000" stroke-width="5" stroke-linecap="butt"/>
<line x1="1022" y1="1457.8" x2="1032" y2="1457.8" stroke="#000" stroke-width="3" stroke-linecap="butt"/>
<text transform="translate(977.43,1466.91) scale(1,1.0372)" font-family="'Liberation Sans', Arial, Helvetica, sans-serif" font-size="28.24" font-weight="normal">0.0</text>
<line x1="1022" y1="1328.3" x2="1032" y2="1328.3" stroke="#000" stroke-width="3" stroke-linecap="butt"/>
<text transform="translate(977.71,1337.41) scale(1,1.0372)" font-family="'Liberation Sans', Arial, Helvetica, sans-serif" font-size="28.24" font-weight="normal">0.1</text>
<line x1="1022" y1="1198.8" x2="1032" y2="1198.8" stroke="#000" stroke-width="3" stroke-linecap="butt"/>
<text transform="translate(977.85,1207.91) scale(1,1.0372)" font-family="'Liberation Sans', Arial, Helvetica, sans-serif" font-size="28.24" font-weight="normal">0.2</text>
<line x1="1022" y1="1069.3" x2="1032" y2="1069.3" stroke="#000" stroke-width="3" stroke-linecap="butt"/>
<text transform="translate(977.57,1078.41) scale(1,1.0372)" font-family="'Liberation Sans', Arial, Helvetica, sans-serif" font-size="28.24" font-weight="normal">0.3</text>
<line x1="1022" y1="939.8" x2="1032" y2="939.8" stroke="#000" stroke-width="3" stroke-linecap="butt"/>
<text transform="translate(977.29,948.91) scale(1,1.0372)" font-family="'Liberation Sans', Arial, Helvetica, sans-serif" font-size="28.24" font-weight="normal">0.4</text>
<line x1="1032" y1="1457.8" x2="1032" y2="1467.8" stroke="#000" stroke-width="3" stroke-linecap="butt"/>
<text transform="translate(1024.74,1497.40) scale(1,1.0473)" font-family="'Liberation Sans', Arial, Helvetica, sans-serif" font-size="28.78" font-weight="normal">0</text>
<line x1="1120.3" y1="1457.8" x2="1120.3" y2="1467.8" stroke="#000" stroke-width="3" stroke-linecap="butt"/>
<text transform="translate(1104.91,1497.40) scale(1,1.0473)" font-family="'Liberation Sans', Arial, Helvetica, sans-serif" font-size="28.78" font-weight="normal">20</text>
<line x1="1208.6" y1="1457.8" x2="1208.6" y2="1467.8" stroke="#000" stroke-width="3" stroke-linecap="butt"/>
<text transform="translate(1193.64,1497.40) scale(1,1.0473)" font-family="'Liberation Sans', Arial, Helvetica, sans-serif" font-size="28.78" font-weight="normal">40</text>
<line x1="1296.9" y1="1457.8" x2="1296.9" y2="1467.8" stroke="#000" stroke-width="3" stroke-linecap="butt"/>
<text transform="translate(1281.51,1497.40) scale(1,1.0473)" font-family="'Liberation Sans', Arial, Helvetica, sans-serif" font-size="28.78" font-weight="normal">60</text>
<line x1="1385.2" y1="1457.8" x2="1385.2" y2="1467.8" stroke="#000" stroke-width="3" stroke-linecap="butt"/>
<text transform="translate(1369.88,1497.40) scale(1,1.0473)" font-family="'Liberation Sans', Arial, Helvetica, sans-serif" font-size="28.78" font-weight="normal">80</text>
<line x1="1473.5" y1="1457.8" x2="1473.5" y2="1467.8" stroke="#000" stroke-width="3" stroke-linecap="butt"/>
<text transform="translate(1452.76,1497.40) scale(1,1.0473)" font-family="'Liberation Sans', Arial, Helvetica, sans-serif" font-size="28.78" font-weight="normal">100</text>
<line x1="1561.8" y1="1457.8" x2="1561.8" y2="1467.8" stroke="#000" stroke-width="3" stroke-linecap="butt"/>
<text transform="translate(1541.06,1497.40) scale(1,1.0473)" font-family="'Liberation Sans', Arial, Helvetica, sans-serif" font-size="28.78" font-weight="normal">120</text>
<line x1="1650.1" y1="1457.8" x2="1650.1" y2="1467.8" stroke="#000" stroke-width="3" stroke-linecap="butt"/>
<text transform="translate(1629.36,1497.40) scale(1,1.0473)" font-family="'Liberation Sans', Arial, Helvetica, sans-serif" font-size="28.78" font-weight="normal">140</text>
<text transform="translate(1236.56,1541.80) scale(1,1.0256)" font-family="'Liberation Sans', Arial, Helvetica, sans-serif" font-size="47.20" font-weight="normal">Time (min)</text>
<text transform="translate(962.80,1381.44) rotate(-90) scale(1,1.0417)" font-family="'Liberation Sans', Arial, Helvetica, sans-serif" font-size="47.17" font-weight="normal">Time of Flight (μs)</text>
<rect x="1370.5" y="976.7" width="266.3" height="150.8" fill="#fff" stroke="#000" stroke-width="2.6"/>
<line x1="1382" y1="1003.4" x2="1443.7" y2="1003.4" stroke="#3f3ff7" stroke-width="3.2" stroke-linecap="butt"/>
<line x1="1382" y1="1036.3" x2="1443.7" y2="1036.3" stroke="#fa8a70" stroke-width="3.2" stroke-linecap="butt"/>
<line x1="1382" y1="1069.7" x2="1443.7" y2="1069.7" stroke="#d23fcf" stroke-width="3.2" stroke-linecap="butt"/>
<line x1="1382" y1="1102.1" x2="1443.7" y2="1102.1" stroke="#9d10e0" stroke-width="3.2" stroke-linecap="butt"/>
<text transform="translate(1449.33,1012.00) scale(1,0.9777)" font-family="'Liberation Sans', Arial, Helvetica, sans-serif" font-size="28.31" font-weight="normal">Measured ToF</text>
<text transform="translate(1449.34,1045.50) scale(1,0.9796)" font-family="'Liberation Sans', Arial, Helvetica, sans-serif" font-size="28.26" font-weight="normal">Predicted ToF</text>
<text transform="translate(1448.87,1078.40)" font-family="'Liberation Sans', Arial, Helvetica, sans-serif" font-size="27.83">ΔToF<tspan font-size="19.5" dy="5.3">SoC</tspan></text>
<text transform="translate(1448.87,1111.30)" font-family="'Liberation Sans', Arial, Helvetica, sans-serif" font-size="27.83">ΔToF<tspan font-size="19.5" dy="5.3">Temp</tspan></text>
<text transform="translate(61.39,1601.54) scale(1,0.8858)" font-family="'Liberation Sans', Arial, Helvetica, sans-serif" font-size="48.18" font-weight="bold">(e)</text>
<polyline points="115.6,1925 118.8,1932.4 140.4,1947.2 138.9,1947.2 141,1862 145,1864.4 165.5,1864.4 168,1937.7 189,1945.6 189.5,1945.6 192,1858.1 196,1860.5 215,1860.5 218,1931.3 239,1947.2 239.5,1947.2 242,1865.2 246,1867.6 265.5,1867.6 268.5,1936.9 289,1947.2 293,1969 311.5,1984 312,1984 318.5,1826.4 322.5,1828.8 342.5,1828.8 349.5,1974.9 369,1986.8 369.5,1986.8 376,1824.8 380,1827.2 399.5,1827.2 405.5,1970.9 426,1982.8 426.5,1982.8 433.5,1822.4 437.5,1824.8 454,1824.8 461,2010.5 485,2020.1 485.5,2020.1 495.5,1800.3 499.5,1802.6 518.5,1802.6 531,2014.5 552.5,2021.6 553,2021.6 563,1800.3 567,1802.6 584.5,1802.6 594.5,2014.5 616,2021.6 616.5,2021.6 626.5,1800.3 630.5,1802.6 649,1802.6 661.5,2058.1 683.5,2062 684,2062 697.5,1761.5 701.5,1763.8 720.5,1763.8 733,2058.1 753.5,2061.2 754,2061.2 767.5,1761.5 771.5,1763.8 790.5,1763.8 804,2056.5 824.5,2059.7 825,2059.7 838.8,1761.5 842.8,1763.8 860.5,1763.8 878,2143.6 900,2145.2 900.5,2145.2 918.2,1761.5 922.2,1763.8 941,1763.8 957.5,2142 978,2144.4 978.5,2144.4 997.7,1761.5 1001.7,1763.8 1019.4,1763.8 1034.5,2142 1056,2144.4 1056,2144.4 1075.5,1755.9 1080,1763.8 1097.4,1763.8 1100,1838.3 1109.1,1847.8 1117.2,1858.9 1130.7,1868.4 1146.8,1870 1157.6,1871.6 1161.6,1868.6 1165.6,1868.5 1169.6,1870.2 1173.6,1867.7 1177.6,1869.6 1181.6,1868.9 1185.6,1868.9 1189.6,1869.9 1193.6,1867.6 1197.6,1868 1201.6,1870.2 1205.6,1868.5 1209.6,1870.3 1213.6,1868.9 1217.6,1867.6 1221.6,1867.4 1225.6,1867.8 1229.6,1867.4 1233.6,1870.1 1237.6,1869.7 1241.6,1869 1245.6,1869.4 1249.6,1869.1 1253.6,1868.5 1257.6,1867.5 1261.6,1867.4 1265.6,1867.2 1269.6,1869.8 1273.6,1867.3 1277.6,1868.6 1281.6,1869.7 1285.6,1868.5 1289.6,1870.2 1293.6,1867.2 1297.6,1861.5 1301.6,1867.5 1305.6,1865.6 1309.6,1867.8 1313.6,1867.8 1317.6,1866.9 1321.6,1864.9 1325.6,1864.8 1329.6,1867.7 1333.6,1867.9 1337.6,1866.7 1341.6,1867.5 1345.6,1865.2 1349.6,1865 1353.6,1866.8 1357.6,1866.3 1361.6,1866.1 1365.6,1866 1369.6,1866.4 1373.6,1865.7 1377.6,1867 1381.6,1866.3 1385.6,1868 1389.6,1866.2 1393.6,1866 1397.6,1867.8 1401.6,1866.5 1405.6,1866.9 1409.6,1865.6 1413.6,1867.8 1417.6,1864.9 1421.6,1866.5 1425.6,1867 1429.6,1867 1433.6,1866.1 1437.6,1860.5 1441.6,1870.3 1445.6,1868 1449.6,1869.7 1453.6,1869.6 1457.6,1869 1461.6,1870 1465.6,1869.3 1469.6,1869 1473.6,1869.8 1477.6,1868.3 1481.6,1868.9 1485.6,1870 1489.6,1869.8 1493.6,1867.7 1497.6,1869.5 1501.6,1868.3 1505.6,1869.3 1509.6,1869.4 1513.6,1869.5 1517.6,1869 1521.6,1869.1 1525.6,1869.9 1529.6,1867.4 1533.6,1867.2 1537.6,1867.4 1541.6,1869.7 1545.6,1867.7 1549.6,1868.7 1553.6,1869.3 1557.6,1870.1 1561.6,1869.5 1565.6,1870.2 1569.6,1868.2 1573.6,1867.5 1577.6,1868.5 1581.6,1868 1585.6,1869.4 1589.6,1868.7 1593.6,1867.4 1597.6,1869.3 1601.6,1867.6 1605.6,1867.9 1609.6,1869.7 1613.6,1867.8 1617.6,1867.9 1621.6,1867.8 1625.6,1870.3 1629.6,1867.6 1633.6,1869.5 1637.6,1868.7 1641.6,1868.9 1645.6,1870.4 1649.6,1870 1653.6,1870.1 1657.6,1867.7 1661.6,1868.8 1665.6,1869.4" fill="none" stroke="#3b3bf5" stroke-width="3.2" stroke-linejoin="round" stroke-linecap="round"/>
<polyline points="115.6,1891.4 118.8,1934.4 140.4,1949.2 140.4,1949.2 143.5,1862 145,1862.8 166.5,1864.4 170,1936.5 190,1944.4 191,1944.4 194.5,1858.9 196,1858.9 216,1860.5 220,1930.2 240,1946 241,1946 244.5,1865.2 246,1864.4 266.5,1866 270.5,1935.7 290,1946 293.5,1971.3 312.5,1985.6 313.5,1985.6 321,1812.9 322.5,1824 343.5,1825.6 351.5,1973.7 370,1985.6 371,1985.6 378.5,1816.9 380,1822.4 400.5,1824 407.5,1969.8 427,1981.6 428,1981.6 436,1815.3 437.5,1820.1 455,1821.7 463,2009.4 486,2018.9 487,2018.9 498,1769.4 499.5,1793.9 519.5,1795.5 533,2013.3 553.5,2020.4 554.5,2020.4 565.5,1774.1 567,1793.1 585.5,1794.7 596.5,2013.3 617,2020.4 618,2020.4 629,1769.4 630.5,1793.9 650,1795.5 663.5,2056.9 684.5,2060.8 685.5,2060.8 700,1721.9 701.5,1749.6 721.5,1751.2 735,2056.9 754.5,2060 755.5,2060 770,1721.9 771.5,1749.6 791.5,1751.2 806,2055.3 825.5,2058.5 826.5,2058.5 841.3,1720.3 842.8,1749.6 861.5,1751.2 880,2137.7 901,2139.2 902,2139.2 920.7,1720.3 922.2,1749.6 942,1751.2 959.5,2136.1 979,2138.5 980,2138.5 1000.2,1728.2 1001.7,1752.8 1020.4,1754.3 1036.5,2136.1 1057,2138.5 1058,2138.5 1078.2,1729.8 1080,1752.8 1098.4,1754.3 1101,1840.7 1109.1,1849.4 1117.2,1859.7 1130.7,1870.8 1146.8,1871.6 1157.6,1873.1 1161.6,1873.2 1165.6,1872.6 1169.6,1871.4 1173.6,1874.3 1177.6,1873.1 1181.6,1869.6 1185.6,1870.3 1189.6,1871.3 1193.6,1871.3 1197.6,1871.8 1201.6,1871.1 1205.6,1870.7 1209.6,1872.9 1213.6,1870.2 1217.6,1870.9 1221.6,1870.9 1225.6,1872.4 1229.6,1872.2 1233.6,1870.1 1237.6,1873.7 1241.6,1869.7 1245.6,1871.3 1249.6,1871.9 1253.6,1872.7 1257.6,1871.5 1261.6,1871.1 1265.6,1870.3 1269.6,1871.1 1273.6,1870.2 1277.6,1870 1281.6,1870.9 1285.6,1870.4 1289.6,1873 1293.6,1870.3 1297.6,1873.9 1301.6,1868.4 1305.6,1869 1309.6,1866.2 1313.6,1867.4 1317.6,1866.9 1321.6,1866.2 1325.6,1868 1329.6,1868.9 1333.6,1867.5 1337.6,1869.4 1341.6,1867.5 1345.6,1870.2 1349.6,1868.9 1353.6,1866.1 1357.6,1868.2 1361.6,1867.3 1365.6,1867.7 1369.6,1865.9 1373.6,1868.3 1377.6,1869.2 1381.6,1865.7 1385.6,1867.8 1389.6,1868.4 1393.6,1870.3 1397.6,1867.4 1401.6,1867.4 1405.6,1867.1 1409.6,1867 1413.6,1870.3 1417.6,1867.2 1421.6,1869.2 1425.6,1867.5 1429.6,1868.6 1433.6,1868.6 1437.6,1868.9 1441.6,1870.7 1445.6,1871.6 1449.6,1872.9 1453.6,1870.5 1457.6,1873.4 1461.6,1871 1465.6,1872.8 1469.6,1870.4 1473.6,1870.3 1477.6,1872.7 1481.6,1870.1 1485.6,1873.3 1489.6,1871.8 1493.6,1870.5 1497.6,1873.5 1501.6,1870.5 1505.6,1870.5 1509.6,1873.7 1513.6,1870.6 1517.6,1872.7 1521.6,1872.3 1525.6,1869.9 1529.6,1874.3 1533.6,1870.1 1537.6,1872.3 1541.6,1869.9 1545.6,1870.8 1549.6,1871.2 1553.6,1873 1557.6,1873.2 1561.6,1871.5 1565.6,1870.5 1569.6,1870 1573.6,1869.9 1577.6,1870 1581.6,1874.3 1585.6,1873.5 1589.6,1871.2 1593.6,1872.4 1597.6,1871.4 1601.6,1873.1 1605.6,1872.1 1609.6,1872.7 1613.6,1871.8 1617.6,1873.5 1621.6,1869.9 1625.6,1870.4 1629.6,1871.3 1633.6,1874.1 1637.6,1873 1641.6,1872.3 1645.6,1870.6 1649.6,1874.1 1653.6,1873.7 1657.6,1872.1 1661.6,1876.3 1665.6,1875.2" fill="none" stroke="#fb8a78" stroke-width="5" stroke-linejoin="round" stroke-linecap="round"/>
<line x1="115" y1="1666.5" x2="115" y2="2185" stroke="#000" stroke-width="3.4" stroke-linecap="butt"/>
<line x1="1665" y1="1666.5" x2="1665" y2="2185" stroke="#000" stroke-width="3.4" stroke-linecap="butt"/>
<line x1="113.5" y1="2183.5" x2="1666.5" y2="2183.5" stroke="#000" stroke-width="3.4" stroke-linecap="butt"/>
<line x1="113.5" y1="1668" x2="1666.5" y2="1668" stroke="#000" stroke-width="3.4" stroke-linecap="butt"/>
<line x1="105" y1="2183.6" x2="115" y2="2183.6" stroke="#000" stroke-width="3" stroke-linecap="butt"/>
<text transform="translate(57.62,2192.21) scale(1,1.0032)" font-family="'Liberation Sans', Arial, Helvetica, sans-serif" font-size="28.78" font-weight="normal">-10</text>
<line x1="105" y1="2104.4" x2="115" y2="2104.4" stroke="#000" stroke-width="3" stroke-linecap="butt"/>
<text transform="translate(83.23,2113.01) scale(1,1.0032)" font-family="'Liberation Sans', Arial, Helvetica, sans-serif" font-size="28.78" font-weight="normal">0</text>
<line x1="105" y1="2025.2" x2="115" y2="2025.2" stroke="#000" stroke-width="3" stroke-linecap="butt"/>
<text transform="translate(67.26,2033.81) scale(1,1.0032)" font-family="'Liberation Sans', Arial, Helvetica, sans-serif" font-size="28.78" font-weight="normal">10</text>
<line x1="105" y1="1946" x2="115" y2="1946" stroke="#000" stroke-width="3" stroke-linecap="butt"/>
<text transform="translate(67.26,1954.61) scale(1,1.0032)" font-family="'Liberation Sans', Arial, Helvetica, sans-serif" font-size="28.78" font-weight="normal">20</text>
<line x1="105" y1="1866.8" x2="115" y2="1866.8" stroke="#000" stroke-width="3" stroke-linecap="butt"/>
<text transform="translate(67.26,1875.41) scale(1,1.0032)" font-family="'Liberation Sans', Arial, Helvetica, sans-serif" font-size="28.78" font-weight="normal">30</text>
<line x1="105" y1="1787.6" x2="115" y2="1787.6" stroke="#000" stroke-width="3" stroke-linecap="butt"/>
<text transform="translate(67.26,1796.21) scale(1,1.0032)" font-family="'Liberation Sans', Arial, Helvetica, sans-serif" font-size="28.78" font-weight="normal">40</text>
<line x1="105" y1="1708.4" x2="115" y2="1708.4" stroke="#000" stroke-width="3" stroke-linecap="butt"/>
<text transform="translate(67.26,1717.01) scale(1,1.0032)" font-family="'Liberation Sans', Arial, Helvetica, sans-serif" font-size="28.78" font-weight="normal">50</text>
<line x1="297.7" y1="2183.5" x2="297.7" y2="2194.5" stroke="#000" stroke-width="3" stroke-linecap="butt"/>
<text transform="translate(266.02,2222.80) scale(1,1.0470)" font-family="'Liberation Sans', Arial, Helvetica, sans-serif" font-size="28.25" font-weight="normal">1000</text>
<line x1="479.9" y1="2183.5" x2="479.9" y2="2194.5" stroke="#000" stroke-width="3" stroke-linecap="butt"/>
<text transform="translate(448.63,2222.80) scale(1,1.0470)" font-family="'Liberation Sans', Arial, Helvetica, sans-serif" font-size="28.25" font-weight="normal">2000</text>
<line x1="662.2" y1="2183.5" x2="662.2" y2="2194.5" stroke="#000" stroke-width="3" stroke-linecap="butt"/>
<text transform="translate(631.03,2222.80) scale(1,1.0470)" font-family="'Liberation Sans', Arial, Helvetica, sans-serif" font-size="28.25" font-weight="normal">3000</text>
<line x1="844.4" y1="2183.5" x2="844.4" y2="2194.5" stroke="#000" stroke-width="3" stroke-linecap="butt"/>
<text transform="translate(813.58,2222.80) scale(1,1.0470)" font-family="'Liberation Sans', Arial, Helvetica, sans-serif" font-size="28.25" font-weight="normal">4000</text>
<line x1="1026.7" y1="2183.5" x2="1026.7" y2="2194.5" stroke="#000" stroke-width="3" stroke-linecap="butt"/>
<text transform="translate(995.55,2222.80) scale(1,1.0470)" font-family="'Liberation Sans', Arial, Helvetica, sans-serif" font-size="28.25" font-weight="normal">5000</text>
<line x1="1209" y1="2183.5" x2="1209" y2="2194.5" stroke="#000" stroke-width="3" stroke-linecap="butt"/>
<text transform="translate(1177.67,2222.80) scale(1,1.0470)" font-family="'Liberation Sans', Arial, Helvetica, sans-serif" font-size="28.25" font-weight="normal">6000</text>
<line x1="1391.2" y1="2183.5" x2="1391.2" y2="2194.5" stroke="#000" stroke-width="3" stroke-linecap="butt"/>
<text transform="translate(1359.93,2222.80) scale(1,1.0470)" font-family="'Liberation Sans', Arial, Helvetica, sans-serif" font-size="28.25" font-weight="normal">7000</text>
<line x1="1573.5" y1="2183.5" x2="1573.5" y2="2194.5" stroke="#000" stroke-width="3" stroke-linecap="butt"/>
<text transform="translate(1542.26,2222.80) scale(1,1.0470)" font-family="'Liberation Sans', Arial, Helvetica, sans-serif" font-size="28.25" font-weight="normal">8000</text>
<line x1="115.4" y1="2183.5" x2="115.4" y2="2194.5" stroke="#000" stroke-width="3" stroke-linecap="butt"/>
<text transform="translate(768.56,2279.90) scale(1,1.0374)" font-family="'Liberation Sans', Arial, Helvetica, sans-serif" font-size="46.94" font-weight="normal">Time (min)</text>
<text transform="translate(39.00,2078.64) rotate(-90)" font-family="'Liberation Sans', Arial, Helvetica, sans-serif" font-size="49.13" textLength="359.00" lengthAdjust="spacingAndGlyphs">Temperature (<tspan font-size="31.93" dy="-16.95">o</tspan><tspan dy="16.95">C)</tspan></text>
<rect x="1182" y="1993.5" width="419.7" height="78.7" fill="#fff" stroke="#444" stroke-width="1.4"/>
<line x1="1193.7" y1="2014.6" x2="1299.3" y2="2014.6" stroke="#3b3bf5" stroke-width="3" stroke-linecap="butt"/>
<line x1="1193.7" y1="2048.6" x2="1299.3" y2="2048.6" stroke="#fb8a78" stroke-width="3.6" stroke-linecap="butt"/>
<text transform="translate(1301.44,2023.70) scale(1,0.9734)" font-family="'Liberation Sans', Arial, Helvetica, sans-serif" font-size="28.29" font-weight="normal">Measured Temperature</text>
<text transform="translate(1301.44,2056.60) scale(1,0.9342)" font-family="'Liberation Sans', Arial, Helvetica, sans-serif" font-size="28.23" font-weight="normal">Predicted Temperature</text>
</svg></body></html>
